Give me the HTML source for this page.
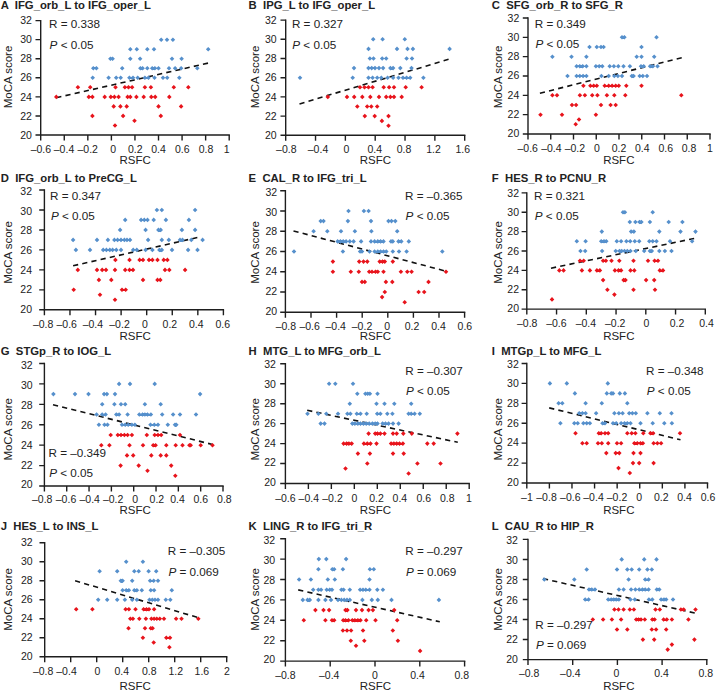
<!DOCTYPE html>
<html><head><meta charset="utf-8"><style>
html,body{margin:0;padding:0;background:#fff;width:716px;height:692px;overflow:hidden}
svg{display:block}
text{font-family:"Liberation Sans",sans-serif;fill:#222}
</style></head><body>
<svg width="716" height="692" viewBox="0 0 716 692">
<g><text x="0.8" y="8.9" font-weight="bold" font-size="11.3" xml:space="preserve">A  IFG_orb_L to IFG_oper_L</text><text x="0" y="0" font-size="11.5" text-anchor="middle" transform="translate(11.5,77.0) rotate(-90)">MoCA score</text><text x="49.0" y="28.2" font-size="11.7">R = 0.338</text><text x="49.6" y="48.5" font-size="11.7"><tspan font-style="italic">P</tspan> < 0.05</text><path d="M40.7,20.6 V135 H229.2" fill="none" stroke="#1e1e1e" stroke-width="1.4" stroke-linecap="square"/><text x="31.9" y="139.00" font-size="10.5" text-anchor="end">20</text><text x="31.9" y="119.75" font-size="10.5" text-anchor="end">22</text><text x="31.9" y="100.50" font-size="10.5" text-anchor="end">24</text><text x="31.9" y="81.25" font-size="10.5" text-anchor="end">26</text><text x="31.9" y="62.00" font-size="10.5" text-anchor="end">28</text><text x="31.9" y="42.75" font-size="10.5" text-anchor="end">30</text><text x="31.9" y="23.50" font-size="10.5" text-anchor="end">32</text><text x="40.90" y="152.80" font-size="10.5" text-anchor="middle">–0.6</text><text x="64.00" y="152.80" font-size="10.5" text-anchor="middle">–0.4</text><text x="87.70" y="152.80" font-size="10.5" text-anchor="middle">–0.2</text><text x="113.20" y="152.80" font-size="10.5" text-anchor="middle">0</text><text x="135.20" y="152.80" font-size="10.5" text-anchor="middle">0.2</text><text x="158.50" y="152.80" font-size="10.5" text-anchor="middle">0.4</text><text x="182.30" y="152.80" font-size="10.5" text-anchor="middle">0.6</text><text x="206.00" y="152.80" font-size="10.5" text-anchor="middle">0.8</text><text x="226.70" y="152.80" font-size="10.5" text-anchor="middle">1</text><path d="M35.5,135.00H40.7M35.5,115.93H40.7M35.5,96.87H40.7M35.5,77.80H40.7M35.5,58.73H40.7M35.5,39.67H40.7M35.5,20.60H40.7M40.70,135v5.5M64.26,135v5.5M87.83,135v5.5M111.39,135v5.5M134.95,135v5.5M158.51,135v5.5M182.08,135v5.5M205.64,135v5.5M229.20,135v5.5" fill="none" stroke="#1e1e1e" stroke-width="1.4"/><text x="135.2" y="163.6" font-size="11.5" text-anchor="middle">RSFC</text><path d="M56.3,97.7L209.1,62.9" stroke="#111" stroke-width="1.6" stroke-dasharray="5.2 4.2" fill="none"/><path d="M161.2,37.4l2.3,2.3l-2.3,2.3l-2.3,-2.3zM167.0,37.4l2.3,2.3l-2.3,2.3l-2.3,-2.3zM172.9,37.4l2.3,2.3l-2.3,2.3l-2.3,-2.3zM130.3,46.9l2.3,2.3l-2.3,2.3l-2.3,-2.3zM136.8,46.9l2.3,2.3l-2.3,2.3l-2.3,-2.3zM147.3,46.9l2.3,2.3l-2.3,2.3l-2.3,-2.3zM154.0,46.9l2.3,2.3l-2.3,2.3l-2.3,-2.3zM208.2,46.9l2.3,2.3l-2.3,2.3l-2.3,-2.3zM110.4,56.4l2.3,2.3l-2.3,2.3l-2.3,-2.3zM112.6,56.4l2.3,2.3l-2.3,2.3l-2.3,-2.3zM130.3,56.4l2.3,2.3l-2.3,2.3l-2.3,-2.3zM140.1,56.4l2.3,2.3l-2.3,2.3l-2.3,-2.3zM172.0,56.4l2.3,2.3l-2.3,2.3l-2.3,-2.3zM181.6,56.4l2.3,2.3l-2.3,2.3l-2.3,-2.3zM93.3,66.0l2.3,2.3l-2.3,2.3l-2.3,-2.3zM96.4,66.0l2.3,2.3l-2.3,2.3l-2.3,-2.3zM122.2,66.0l2.3,2.3l-2.3,2.3l-2.3,-2.3zM140.4,66.0l2.3,2.3l-2.3,2.3l-2.3,-2.3zM142.6,66.0l2.3,2.3l-2.3,2.3l-2.3,-2.3zM147.3,66.0l2.3,2.3l-2.3,2.3l-2.3,-2.3zM152.2,66.0l2.3,2.3l-2.3,2.3l-2.3,-2.3zM154.9,66.0l2.3,2.3l-2.3,2.3l-2.3,-2.3zM158.5,66.0l2.3,2.3l-2.3,2.3l-2.3,-2.3zM169.0,66.0l2.3,2.3l-2.3,2.3l-2.3,-2.3zM175.1,66.0l2.3,2.3l-2.3,2.3l-2.3,-2.3zM181.1,66.0l2.3,2.3l-2.3,2.3l-2.3,-2.3zM197.3,66.0l2.3,2.3l-2.3,2.3l-2.3,-2.3zM92.7,75.5l2.3,2.3l-2.3,2.3l-2.3,-2.3zM108.6,75.5l2.3,2.3l-2.3,2.3l-2.3,-2.3zM116.2,75.5l2.3,2.3l-2.3,2.3l-2.3,-2.3zM120.7,75.5l2.3,2.3l-2.3,2.3l-2.3,-2.3zM129.4,75.5l2.3,2.3l-2.3,2.3l-2.3,-2.3zM133.0,75.5l2.3,2.3l-2.3,2.3l-2.3,-2.3zM137.7,75.5l2.3,2.3l-2.3,2.3l-2.3,-2.3zM144.9,75.5l2.3,2.3l-2.3,2.3l-2.3,-2.3zM148.5,75.5l2.3,2.3l-2.3,2.3l-2.3,-2.3zM154.5,75.5l2.3,2.3l-2.3,2.3l-2.3,-2.3zM163.0,75.5l2.3,2.3l-2.3,2.3l-2.3,-2.3zM167.2,75.5l2.3,2.3l-2.3,2.3l-2.3,-2.3zM179.3,75.5l2.3,2.3l-2.3,2.3l-2.3,-2.3z" fill="#5690cc"/><path d="M77.9,85.0l2.3,2.3l-2.3,2.3l-2.3,-2.3zM90.2,85.0l2.3,2.3l-2.3,2.3l-2.3,-2.3zM115.5,85.0l2.3,2.3l-2.3,2.3l-2.3,-2.3zM124.9,85.0l2.3,2.3l-2.3,2.3l-2.3,-2.3zM128.5,85.0l2.3,2.3l-2.3,2.3l-2.3,-2.3zM132.1,85.0l2.3,2.3l-2.3,2.3l-2.3,-2.3zM144.9,85.0l2.3,2.3l-2.3,2.3l-2.3,-2.3zM150.9,85.0l2.3,2.3l-2.3,2.3l-2.3,-2.3zM173.8,85.0l2.3,2.3l-2.3,2.3l-2.3,-2.3zM188.3,85.0l2.3,2.3l-2.3,2.3l-2.3,-2.3zM56.3,94.6l2.3,2.3l-2.3,2.3l-2.3,-2.3zM88.8,94.6l2.3,2.3l-2.3,2.3l-2.3,-2.3zM92.4,94.6l2.3,2.3l-2.3,2.3l-2.3,-2.3zM104.7,94.6l2.3,2.3l-2.3,2.3l-2.3,-2.3zM110.8,94.6l2.3,2.3l-2.3,2.3l-2.3,-2.3zM114.4,94.6l2.3,2.3l-2.3,2.3l-2.3,-2.3zM118.6,94.6l2.3,2.3l-2.3,2.3l-2.3,-2.3zM127.6,94.6l2.3,2.3l-2.3,2.3l-2.3,-2.3zM130.3,94.6l2.3,2.3l-2.3,2.3l-2.3,-2.3zM136.4,94.6l2.3,2.3l-2.3,2.3l-2.3,-2.3zM143.7,94.6l2.3,2.3l-2.3,2.3l-2.3,-2.3zM151.3,94.6l2.3,2.3l-2.3,2.3l-2.3,-2.3zM155.2,94.6l2.3,2.3l-2.3,2.3l-2.3,-2.3zM169.3,94.6l2.3,2.3l-2.3,2.3l-2.3,-2.3zM113.7,104.1l2.3,2.3l-2.3,2.3l-2.3,-2.3zM120.4,104.1l2.3,2.3l-2.3,2.3l-2.3,-2.3zM126.7,104.1l2.3,2.3l-2.3,2.3l-2.3,-2.3zM158.5,104.1l2.3,2.3l-2.3,2.3l-2.3,-2.3zM181.1,104.1l2.3,2.3l-2.3,2.3l-2.3,-2.3zM92.4,113.6l2.3,2.3l-2.3,2.3l-2.3,-2.3zM123.1,113.6l2.3,2.3l-2.3,2.3l-2.3,-2.3zM160.8,113.6l2.3,2.3l-2.3,2.3l-2.3,-2.3zM134.5,118.4l2.3,2.3l-2.3,2.3l-2.3,-2.3zM115.0,123.2l2.3,2.3l-2.3,2.3l-2.3,-2.3z" fill="#e8141c"/></g>
<g><text x="248.6" y="8.9" font-weight="bold" font-size="11.3" xml:space="preserve">B  IPG_L to IFG_oper_L</text><text x="0" y="0" font-size="11.5" text-anchor="middle" transform="translate(259.40000000000003,77.0) rotate(-90)">MoCA score</text><text x="291.9" y="28.2" font-size="11.7">R = 0.327</text><text x="292.3" y="48.5" font-size="11.7"><tspan font-style="italic">P</tspan> < 0.05</text><path d="M285.7,20.1 V135.3 H464.7" fill="none" stroke="#1e1e1e" stroke-width="1.4" stroke-linecap="square"/><text x="276.7" y="139.00" font-size="10.5" text-anchor="end">20</text><text x="276.7" y="119.80" font-size="10.5" text-anchor="end">22</text><text x="276.7" y="100.60" font-size="10.5" text-anchor="end">24</text><text x="276.7" y="81.40" font-size="10.5" text-anchor="end">26</text><text x="276.7" y="62.20" font-size="10.5" text-anchor="end">28</text><text x="276.7" y="43.00" font-size="10.5" text-anchor="end">30</text><text x="276.7" y="23.80" font-size="10.5" text-anchor="end">32</text><text x="286.30" y="153.10" font-size="10.5" text-anchor="middle">–0.8</text><text x="318.00" y="153.10" font-size="10.5" text-anchor="middle">–0.4</text><text x="346.50" y="153.10" font-size="10.5" text-anchor="middle">0</text><text x="374.70" y="153.10" font-size="10.5" text-anchor="middle">0.4</text><text x="404.00" y="153.10" font-size="10.5" text-anchor="middle">0.8</text><text x="433.50" y="153.10" font-size="10.5" text-anchor="middle">1.2</text><text x="462.80" y="153.10" font-size="10.5" text-anchor="middle">1.6</text><path d="M280.5,135.30H285.7M280.5,116.10H285.7M280.5,96.90H285.7M280.5,77.70H285.7M280.5,58.50H285.7M280.5,39.30H285.7M280.5,20.10H285.7M285.70,135.3v5.5M315.53,135.3v5.5M345.37,135.3v5.5M375.20,135.3v5.5M405.03,135.3v5.5M434.87,135.3v5.5M464.70,135.3v5.5" fill="none" stroke="#1e1e1e" stroke-width="1.4"/><text x="375.4" y="163.6" font-size="11.5" text-anchor="middle">RSFC</text><path d="M299.5,103.9L450,58.9" stroke="#111" stroke-width="1.6" stroke-dasharray="5.2 4.2" fill="none"/><path d="M373.2,37.0l2.3,2.3l-2.3,2.3l-2.3,-2.3zM382.6,37.0l2.3,2.3l-2.3,2.3l-2.3,-2.3zM404.8,37.0l2.3,2.3l-2.3,2.3l-2.3,-2.3zM368.5,46.6l2.3,2.3l-2.3,2.3l-2.3,-2.3zM397.0,46.6l2.3,2.3l-2.3,2.3l-2.3,-2.3zM407.5,46.6l2.3,2.3l-2.3,2.3l-2.3,-2.3zM412.9,46.6l2.3,2.3l-2.3,2.3l-2.3,-2.3zM449.6,46.6l2.3,2.3l-2.3,2.3l-2.3,-2.3zM369.9,56.2l2.3,2.3l-2.3,2.3l-2.3,-2.3zM373.5,56.2l2.3,2.3l-2.3,2.3l-2.3,-2.3zM382.2,56.2l2.3,2.3l-2.3,2.3l-2.3,-2.3zM386.2,56.2l2.3,2.3l-2.3,2.3l-2.3,-2.3zM406.6,56.2l2.3,2.3l-2.3,2.3l-2.3,-2.3zM412.0,56.2l2.3,2.3l-2.3,2.3l-2.3,-2.3zM354.0,65.8l2.3,2.3l-2.3,2.3l-2.3,-2.3zM368.5,65.8l2.3,2.3l-2.3,2.3l-2.3,-2.3zM371.7,65.8l2.3,2.3l-2.3,2.3l-2.3,-2.3zM375.0,65.8l2.3,2.3l-2.3,2.3l-2.3,-2.3zM379.0,65.8l2.3,2.3l-2.3,2.3l-2.3,-2.3zM383.1,65.8l2.3,2.3l-2.3,2.3l-2.3,-2.3zM390.4,65.8l2.3,2.3l-2.3,2.3l-2.3,-2.3zM393.1,65.8l2.3,2.3l-2.3,2.3l-2.3,-2.3zM400.3,65.8l2.3,2.3l-2.3,2.3l-2.3,-2.3zM411.5,65.8l2.3,2.3l-2.3,2.3l-2.3,-2.3zM300.0,75.4l2.3,2.3l-2.3,2.3l-2.3,-2.3zM352.7,75.4l2.3,2.3l-2.3,2.3l-2.3,-2.3zM368.5,75.4l2.3,2.3l-2.3,2.3l-2.3,-2.3zM372.6,75.4l2.3,2.3l-2.3,2.3l-2.3,-2.3zM377.2,75.4l2.3,2.3l-2.3,2.3l-2.3,-2.3zM381.3,75.4l2.3,2.3l-2.3,2.3l-2.3,-2.3zM387.6,75.4l2.3,2.3l-2.3,2.3l-2.3,-2.3zM393.1,75.4l2.3,2.3l-2.3,2.3l-2.3,-2.3zM398.5,75.4l2.3,2.3l-2.3,2.3l-2.3,-2.3zM403.0,75.4l2.3,2.3l-2.3,2.3l-2.3,-2.3zM406.6,75.4l2.3,2.3l-2.3,2.3l-2.3,-2.3zM410.2,75.4l2.3,2.3l-2.3,2.3l-2.3,-2.3zM423.4,75.4l2.3,2.3l-2.3,2.3l-2.3,-2.3z" fill="#5690cc"/><path d="M360.0,85.0l2.3,2.3l-2.3,2.3l-2.3,-2.3zM364.5,85.0l2.3,2.3l-2.3,2.3l-2.3,-2.3zM368.5,85.0l2.3,2.3l-2.3,2.3l-2.3,-2.3zM372.6,85.0l2.3,2.3l-2.3,2.3l-2.3,-2.3zM383.7,85.0l2.3,2.3l-2.3,2.3l-2.3,-2.3zM389.1,85.0l2.3,2.3l-2.3,2.3l-2.3,-2.3zM394.0,85.0l2.3,2.3l-2.3,2.3l-2.3,-2.3zM405.7,85.0l2.3,2.3l-2.3,2.3l-2.3,-2.3zM421.6,85.0l2.3,2.3l-2.3,2.3l-2.3,-2.3zM327.8,94.6l2.3,2.3l-2.3,2.3l-2.3,-2.3zM347.0,94.6l2.3,2.3l-2.3,2.3l-2.3,-2.3zM354.2,94.6l2.3,2.3l-2.3,2.3l-2.3,-2.3zM362.3,94.6l2.3,2.3l-2.3,2.3l-2.3,-2.3zM370.3,94.6l2.3,2.3l-2.3,2.3l-2.3,-2.3zM379.0,94.6l2.3,2.3l-2.3,2.3l-2.3,-2.3zM386.2,94.6l2.3,2.3l-2.3,2.3l-2.3,-2.3zM390.4,94.6l2.3,2.3l-2.3,2.3l-2.3,-2.3zM394.0,94.6l2.3,2.3l-2.3,2.3l-2.3,-2.3zM401.7,94.6l2.3,2.3l-2.3,2.3l-2.3,-2.3zM357.3,104.2l2.3,2.3l-2.3,2.3l-2.3,-2.3zM367.2,104.2l2.3,2.3l-2.3,2.3l-2.3,-2.3zM371.3,104.2l2.3,2.3l-2.3,2.3l-2.3,-2.3zM377.2,104.2l2.3,2.3l-2.3,2.3l-2.3,-2.3zM364.8,113.8l2.3,2.3l-2.3,2.3l-2.3,-2.3zM374.7,113.8l2.3,2.3l-2.3,2.3l-2.3,-2.3zM388.5,113.8l2.3,2.3l-2.3,2.3l-2.3,-2.3zM381.9,118.6l2.3,2.3l-2.3,2.3l-2.3,-2.3zM388.5,123.4l2.3,2.3l-2.3,2.3l-2.3,-2.3z" fill="#e8141c"/></g>
<g><text x="491.8" y="8.9" font-weight="bold" font-size="11.3" xml:space="preserve">C  SFG_orb_R to SFG_R</text><text x="0" y="0" font-size="11.5" text-anchor="middle" transform="translate(502.0,77.0) rotate(-90)">MoCA score</text><text x="534.7" y="27.9" font-size="11.7">R = 0.349</text><text x="535.4" y="48" font-size="11.7"><tspan font-style="italic">P</tspan> < 0.05</text><path d="M528,18 V134 H710" fill="none" stroke="#1e1e1e" stroke-width="1.4" stroke-linecap="square"/><text x="519.3" y="137.10" font-size="10.5" text-anchor="end">20</text><text x="519.3" y="117.88" font-size="10.5" text-anchor="end">22</text><text x="519.3" y="98.67" font-size="10.5" text-anchor="end">24</text><text x="519.3" y="79.45" font-size="10.5" text-anchor="end">26</text><text x="519.3" y="60.23" font-size="10.5" text-anchor="end">28</text><text x="519.3" y="41.02" font-size="10.5" text-anchor="end">30</text><text x="519.3" y="21.80" font-size="10.5" text-anchor="end">32</text><text x="527.70" y="151.80" font-size="10.5" text-anchor="middle">–0.6</text><text x="551.40" y="151.80" font-size="10.5" text-anchor="middle">–0.4</text><text x="574.90" y="151.80" font-size="10.5" text-anchor="middle">–0.2</text><text x="596.90" y="151.80" font-size="10.5" text-anchor="middle">0</text><text x="619.00" y="151.80" font-size="10.5" text-anchor="middle">0.2</text><text x="642.30" y="151.80" font-size="10.5" text-anchor="middle">0.4</text><text x="665.70" y="151.80" font-size="10.5" text-anchor="middle">0.6</text><text x="689.00" y="151.80" font-size="10.5" text-anchor="middle">0.8</text><text x="710.00" y="151.80" font-size="10.5" text-anchor="middle">1</text><path d="M522.8,134.00H528M522.8,114.67H528M522.8,95.33H528M522.8,76.00H528M522.8,56.67H528M522.8,37.33H528M522.8,18.00H528M528.00,134v5.5M550.75,134v5.5M573.50,134v5.5M596.25,134v5.5M619.00,134v5.5M641.75,134v5.5M664.50,134v5.5M687.25,134v5.5M710.00,134v5.5" fill="none" stroke="#1e1e1e" stroke-width="1.4"/><text x="618.8" y="163.6" font-size="11.5" text-anchor="middle">RSFC</text><path d="M539.9,93.2L682.2,57.6" stroke="#111" stroke-width="1.6" stroke-dasharray="5.2 4.2" fill="none"/><path d="M622.0,35.0l2.3,2.3l-2.3,2.3l-2.3,-2.3zM624.4,35.0l2.3,2.3l-2.3,2.3l-2.3,-2.3zM656.5,35.0l2.3,2.3l-2.3,2.3l-2.3,-2.3zM589.5,44.7l2.3,2.3l-2.3,2.3l-2.3,-2.3zM596.8,44.7l2.3,2.3l-2.3,2.3l-2.3,-2.3zM601.0,44.7l2.3,2.3l-2.3,2.3l-2.3,-2.3zM603.6,44.7l2.3,2.3l-2.3,2.3l-2.3,-2.3zM641.5,44.7l2.3,2.3l-2.3,2.3l-2.3,-2.3zM552.4,54.4l2.3,2.3l-2.3,2.3l-2.3,-2.3zM571.5,54.4l2.3,2.3l-2.3,2.3l-2.3,-2.3zM586.4,54.4l2.3,2.3l-2.3,2.3l-2.3,-2.3zM636.7,54.4l2.3,2.3l-2.3,2.3l-2.3,-2.3zM641.5,54.4l2.3,2.3l-2.3,2.3l-2.3,-2.3zM654.2,54.4l2.3,2.3l-2.3,2.3l-2.3,-2.3zM576.6,64.0l2.3,2.3l-2.3,2.3l-2.3,-2.3zM579.8,64.0l2.3,2.3l-2.3,2.3l-2.3,-2.3zM582.7,64.0l2.3,2.3l-2.3,2.3l-2.3,-2.3zM586.4,64.0l2.3,2.3l-2.3,2.3l-2.3,-2.3zM595.9,64.0l2.3,2.3l-2.3,2.3l-2.3,-2.3zM599.2,64.0l2.3,2.3l-2.3,2.3l-2.3,-2.3zM602.3,64.0l2.3,2.3l-2.3,2.3l-2.3,-2.3zM609.7,64.0l2.3,2.3l-2.3,2.3l-2.3,-2.3zM613.9,64.0l2.3,2.3l-2.3,2.3l-2.3,-2.3zM618.3,64.0l2.3,2.3l-2.3,2.3l-2.3,-2.3zM623.5,64.0l2.3,2.3l-2.3,2.3l-2.3,-2.3zM629.9,64.0l2.3,2.3l-2.3,2.3l-2.3,-2.3zM641.0,64.0l2.3,2.3l-2.3,2.3l-2.3,-2.3zM643.7,64.0l2.3,2.3l-2.3,2.3l-2.3,-2.3zM650.1,64.0l2.3,2.3l-2.3,2.3l-2.3,-2.3zM652.9,64.0l2.3,2.3l-2.3,2.3l-2.3,-2.3zM657.5,64.0l2.3,2.3l-2.3,2.3l-2.3,-2.3zM567.5,73.7l2.3,2.3l-2.3,2.3l-2.3,-2.3zM576.6,73.7l2.3,2.3l-2.3,2.3l-2.3,-2.3zM579.8,73.7l2.3,2.3l-2.3,2.3l-2.3,-2.3zM583.1,73.7l2.3,2.3l-2.3,2.3l-2.3,-2.3zM586.4,73.7l2.3,2.3l-2.3,2.3l-2.3,-2.3zM601.4,73.7l2.3,2.3l-2.3,2.3l-2.3,-2.3zM608.7,73.7l2.3,2.3l-2.3,2.3l-2.3,-2.3zM614.3,73.7l2.3,2.3l-2.3,2.3l-2.3,-2.3zM617.9,73.7l2.3,2.3l-2.3,2.3l-2.3,-2.3zM622.0,73.7l2.3,2.3l-2.3,2.3l-2.3,-2.3zM631.8,73.7l2.3,2.3l-2.3,2.3l-2.3,-2.3zM633.6,73.7l2.3,2.3l-2.3,2.3l-2.3,-2.3zM639.7,73.7l2.3,2.3l-2.3,2.3l-2.3,-2.3zM642.8,73.7l2.3,2.3l-2.3,2.3l-2.3,-2.3zM647.0,73.7l2.3,2.3l-2.3,2.3l-2.3,-2.3z" fill="#5690cc"/><path d="M583.4,83.4l2.3,2.3l-2.3,2.3l-2.3,-2.3zM590.4,83.4l2.3,2.3l-2.3,2.3l-2.3,-2.3zM593.7,83.4l2.3,2.3l-2.3,2.3l-2.3,-2.3zM596.8,83.4l2.3,2.3l-2.3,2.3l-2.3,-2.3zM604.7,83.4l2.3,2.3l-2.3,2.3l-2.3,-2.3zM608.7,83.4l2.3,2.3l-2.3,2.3l-2.3,-2.3zM612.1,83.4l2.3,2.3l-2.3,2.3l-2.3,-2.3zM615.7,83.4l2.3,2.3l-2.3,2.3l-2.3,-2.3zM618.8,83.4l2.3,2.3l-2.3,2.3l-2.3,-2.3zM626.3,83.4l2.3,2.3l-2.3,2.3l-2.3,-2.3zM641.5,83.4l2.3,2.3l-2.3,2.3l-2.3,-2.3zM552.4,93.0l2.3,2.3l-2.3,2.3l-2.3,-2.3zM557.0,93.0l2.3,2.3l-2.3,2.3l-2.3,-2.3zM579.9,93.0l2.3,2.3l-2.3,2.3l-2.3,-2.3zM584.9,93.0l2.3,2.3l-2.3,2.3l-2.3,-2.3zM592.2,93.0l2.3,2.3l-2.3,2.3l-2.3,-2.3zM597.4,93.0l2.3,2.3l-2.3,2.3l-2.3,-2.3zM606.9,93.0l2.3,2.3l-2.3,2.3l-2.3,-2.3zM614.3,93.0l2.3,2.3l-2.3,2.3l-2.3,-2.3zM625.3,93.0l2.3,2.3l-2.3,2.3l-2.3,-2.3zM681.3,93.0l2.3,2.3l-2.3,2.3l-2.3,-2.3zM572.0,102.7l2.3,2.3l-2.3,2.3l-2.3,-2.3zM576.1,102.7l2.3,2.3l-2.3,2.3l-2.3,-2.3zM601.0,102.7l2.3,2.3l-2.3,2.3l-2.3,-2.3zM610.6,102.7l2.3,2.3l-2.3,2.3l-2.3,-2.3zM615.7,102.7l2.3,2.3l-2.3,2.3l-2.3,-2.3zM540.5,112.4l2.3,2.3l-2.3,2.3l-2.3,-2.3zM562.0,112.4l2.3,2.3l-2.3,2.3l-2.3,-2.3zM595.9,112.4l2.3,2.3l-2.3,2.3l-2.3,-2.3zM579.0,117.2l2.3,2.3l-2.3,2.3l-2.3,-2.3zM575.7,122.0l2.3,2.3l-2.3,2.3l-2.3,-2.3z" fill="#e8141c"/></g>
<g><text x="0.8" y="181.7" font-weight="bold" font-size="11.3" xml:space="preserve">D  IFG_orb_L to PreCG_L</text><text x="0" y="0" font-size="11.5" text-anchor="middle" transform="translate(11.5,252.5) rotate(-90)">MoCA score</text><text x="50.1" y="199.7" font-size="11.7">R = 0.347</text><text x="50.9" y="220.2" font-size="11.7"><tspan font-style="italic">P</tspan> < 0.05</text><path d="M44.4,190 V309.8 H223.4" fill="none" stroke="#1e1e1e" stroke-width="1.4" stroke-linecap="square"/><text x="32.0" y="313.00" font-size="10.5" text-anchor="end">20</text><text x="32.0" y="293.30" font-size="10.5" text-anchor="end">22</text><text x="32.0" y="273.60" font-size="10.5" text-anchor="end">24</text><text x="32.0" y="253.90" font-size="10.5" text-anchor="end">26</text><text x="32.0" y="234.20" font-size="10.5" text-anchor="end">28</text><text x="32.0" y="214.50" font-size="10.5" text-anchor="end">30</text><text x="32.0" y="194.80" font-size="10.5" text-anchor="end">32</text><text x="43.10" y="327.60" font-size="10.5" text-anchor="middle">–0.8</text><text x="66.70" y="327.60" font-size="10.5" text-anchor="middle">–0.6</text><text x="92.90" y="327.60" font-size="10.5" text-anchor="middle">–0.4</text><text x="119.50" y="327.60" font-size="10.5" text-anchor="middle">–0.2</text><text x="145.00" y="327.60" font-size="10.5" text-anchor="middle">0</text><text x="169.90" y="327.60" font-size="10.5" text-anchor="middle">0.2</text><text x="196.30" y="327.60" font-size="10.5" text-anchor="middle">0.4</text><text x="222.70" y="327.60" font-size="10.5" text-anchor="middle">0.6</text><path d="M39.199999999999996,309.80H44.4M39.199999999999996,289.83H44.4M39.199999999999996,269.87H44.4M39.199999999999996,249.90H44.4M39.199999999999996,229.93H44.4M39.199999999999996,209.97H44.4M39.199999999999996,190.00H44.4M44.40,309.8v5.5M69.97,309.8v5.5M95.54,309.8v5.5M121.11,309.8v5.5M146.69,309.8v5.5M172.26,309.8v5.5M197.83,309.8v5.5M223.40,309.8v5.5" fill="none" stroke="#1e1e1e" stroke-width="1.4"/><text x="135.2" y="339.9" font-size="11.5" text-anchor="middle">RSFC</text><path d="M73.1,265.8L198.8,237.2" stroke="#111" stroke-width="1.6" stroke-dasharray="5.2 4.2" fill="none"/><path d="M156.9,207.7l2.3,2.3l-2.3,2.3l-2.3,-2.3zM161.8,207.7l2.3,2.3l-2.3,2.3l-2.3,-2.3zM195.1,207.7l2.3,2.3l-2.3,2.3l-2.3,-2.3zM125.2,217.6l2.3,2.3l-2.3,2.3l-2.3,-2.3zM141.1,217.6l2.3,2.3l-2.3,2.3l-2.3,-2.3zM144.3,217.6l2.3,2.3l-2.3,2.3l-2.3,-2.3zM147.5,217.6l2.3,2.3l-2.3,2.3l-2.3,-2.3zM153.7,217.6l2.3,2.3l-2.3,2.3l-2.3,-2.3zM165.9,217.6l2.3,2.3l-2.3,2.3l-2.3,-2.3zM188.9,217.6l2.3,2.3l-2.3,2.3l-2.3,-2.3zM120.1,227.6l2.3,2.3l-2.3,2.3l-2.3,-2.3zM145.6,227.6l2.3,2.3l-2.3,2.3l-2.3,-2.3zM158.4,227.6l2.3,2.3l-2.3,2.3l-2.3,-2.3zM160.7,227.6l2.3,2.3l-2.3,2.3l-2.3,-2.3zM181.9,227.6l2.3,2.3l-2.3,2.3l-2.3,-2.3zM195.1,227.6l2.3,2.3l-2.3,2.3l-2.3,-2.3zM73.1,237.6l2.3,2.3l-2.3,2.3l-2.3,-2.3zM97.0,237.6l2.3,2.3l-2.3,2.3l-2.3,-2.3zM107.9,237.6l2.3,2.3l-2.3,2.3l-2.3,-2.3zM114.4,237.6l2.3,2.3l-2.3,2.3l-2.3,-2.3zM117.6,237.6l2.3,2.3l-2.3,2.3l-2.3,-2.3zM121.0,237.6l2.3,2.3l-2.3,2.3l-2.3,-2.3zM124.4,237.6l2.3,2.3l-2.3,2.3l-2.3,-2.3zM127.0,237.6l2.3,2.3l-2.3,2.3l-2.3,-2.3zM130.0,237.6l2.3,2.3l-2.3,2.3l-2.3,-2.3zM148.1,237.6l2.3,2.3l-2.3,2.3l-2.3,-2.3zM161.8,237.6l2.3,2.3l-2.3,2.3l-2.3,-2.3zM168.8,237.6l2.3,2.3l-2.3,2.3l-2.3,-2.3zM180.0,237.6l2.3,2.3l-2.3,2.3l-2.3,-2.3zM182.5,237.6l2.3,2.3l-2.3,2.3l-2.3,-2.3zM191.3,237.6l2.3,2.3l-2.3,2.3l-2.3,-2.3zM202.6,237.6l2.3,2.3l-2.3,2.3l-2.3,-2.3zM75.9,247.6l2.3,2.3l-2.3,2.3l-2.3,-2.3zM90.0,247.6l2.3,2.3l-2.3,2.3l-2.3,-2.3zM103.2,247.6l2.3,2.3l-2.3,2.3l-2.3,-2.3zM106.4,247.6l2.3,2.3l-2.3,2.3l-2.3,-2.3zM109.8,247.6l2.3,2.3l-2.3,2.3l-2.3,-2.3zM112.6,247.6l2.3,2.3l-2.3,2.3l-2.3,-2.3zM116.3,247.6l2.3,2.3l-2.3,2.3l-2.3,-2.3zM121.0,247.6l2.3,2.3l-2.3,2.3l-2.3,-2.3zM133.2,247.6l2.3,2.3l-2.3,2.3l-2.3,-2.3zM136.8,247.6l2.3,2.3l-2.3,2.3l-2.3,-2.3zM145.6,247.6l2.3,2.3l-2.3,2.3l-2.3,-2.3zM152.4,247.6l2.3,2.3l-2.3,2.3l-2.3,-2.3zM159.4,247.6l2.3,2.3l-2.3,2.3l-2.3,-2.3zM161.8,247.6l2.3,2.3l-2.3,2.3l-2.3,-2.3zM172.0,247.6l2.3,2.3l-2.3,2.3l-2.3,-2.3zM188.1,247.6l2.3,2.3l-2.3,2.3l-2.3,-2.3zM197.5,247.6l2.3,2.3l-2.3,2.3l-2.3,-2.3z" fill="#5690cc"/><path d="M115.4,257.6l2.3,2.3l-2.3,2.3l-2.3,-2.3zM129.5,257.6l2.3,2.3l-2.3,2.3l-2.3,-2.3zM139.6,257.6l2.3,2.3l-2.3,2.3l-2.3,-2.3zM143.0,257.6l2.3,2.3l-2.3,2.3l-2.3,-2.3zM149.0,257.6l2.3,2.3l-2.3,2.3l-2.3,-2.3zM152.4,257.6l2.3,2.3l-2.3,2.3l-2.3,-2.3zM157.5,257.6l2.3,2.3l-2.3,2.3l-2.3,-2.3zM163.7,257.6l2.3,2.3l-2.3,2.3l-2.3,-2.3zM167.4,257.6l2.3,2.3l-2.3,2.3l-2.3,-2.3zM77.8,267.6l2.3,2.3l-2.3,2.3l-2.3,-2.3zM97.0,267.6l2.3,2.3l-2.3,2.3l-2.3,-2.3zM102.2,267.6l2.3,2.3l-2.3,2.3l-2.3,-2.3zM106.0,267.6l2.3,2.3l-2.3,2.3l-2.3,-2.3zM115.0,267.6l2.3,2.3l-2.3,2.3l-2.3,-2.3zM125.2,267.6l2.3,2.3l-2.3,2.3l-2.3,-2.3zM129.5,267.6l2.3,2.3l-2.3,2.3l-2.3,-2.3zM133.0,267.6l2.3,2.3l-2.3,2.3l-2.3,-2.3zM165.0,267.6l2.3,2.3l-2.3,2.3l-2.3,-2.3zM169.3,267.6l2.3,2.3l-2.3,2.3l-2.3,-2.3zM185.1,267.6l2.3,2.3l-2.3,2.3l-2.3,-2.3zM98.9,277.6l2.3,2.3l-2.3,2.3l-2.3,-2.3zM111.3,277.6l2.3,2.3l-2.3,2.3l-2.3,-2.3zM143.0,277.6l2.3,2.3l-2.3,2.3l-2.3,-2.3zM157.5,277.6l2.3,2.3l-2.3,2.3l-2.3,-2.3zM160.3,277.6l2.3,2.3l-2.3,2.3l-2.3,-2.3zM73.7,287.5l2.3,2.3l-2.3,2.3l-2.3,-2.3zM122.0,287.5l2.3,2.3l-2.3,2.3l-2.3,-2.3zM125.7,287.5l2.3,2.3l-2.3,2.3l-2.3,-2.3zM100.0,292.5l2.3,2.3l-2.3,2.3l-2.3,-2.3zM115.0,297.5l2.3,2.3l-2.3,2.3l-2.3,-2.3z" fill="#e8141c"/></g>
<g><text x="248.6" y="181.7" font-weight="bold" font-size="11.3" xml:space="preserve">E  CAL_R to IFG_tri_L</text><text x="0" y="0" font-size="11.5" text-anchor="middle" transform="translate(259.40000000000003,252.5) rotate(-90)">MoCA score</text><text x="405.0" y="199.7" font-size="11.7">R = –0.365</text><text x="405.6" y="220.2" font-size="11.7"><tspan font-style="italic">P</tspan> < 0.05</text><path d="M285.4,190.7 V312.3 H464.6" fill="none" stroke="#1e1e1e" stroke-width="1.4" stroke-linecap="square"/><text x="277.1" y="315.20" font-size="10.5" text-anchor="end">20</text><text x="277.1" y="295.27" font-size="10.5" text-anchor="end">22</text><text x="277.1" y="275.33" font-size="10.5" text-anchor="end">24</text><text x="277.1" y="255.40" font-size="10.5" text-anchor="end">26</text><text x="277.1" y="235.47" font-size="10.5" text-anchor="end">28</text><text x="277.1" y="215.53" font-size="10.5" text-anchor="end">30</text><text x="277.1" y="195.60" font-size="10.5" text-anchor="end">32</text><text x="285.90" y="330.10" font-size="10.5" text-anchor="middle">–0.8</text><text x="309.60" y="330.10" font-size="10.5" text-anchor="middle">–0.6</text><text x="335.70" y="330.10" font-size="10.5" text-anchor="middle">–0.4</text><text x="362.00" y="330.10" font-size="10.5" text-anchor="middle">–0.2</text><text x="387.10" y="330.10" font-size="10.5" text-anchor="middle">0</text><text x="412.10" y="330.10" font-size="10.5" text-anchor="middle">0.2</text><text x="438.50" y="330.10" font-size="10.5" text-anchor="middle">0.4</text><text x="464.90" y="330.10" font-size="10.5" text-anchor="middle">0.6</text><path d="M280.2,312.30H285.4M280.2,292.03H285.4M280.2,271.77H285.4M280.2,251.50H285.4M280.2,231.23H285.4M280.2,210.97H285.4M280.2,190.70H285.4M285.40,312.3v5.5M311.00,312.3v5.5M336.60,312.3v5.5M362.20,312.3v5.5M387.80,312.3v5.5M413.40,312.3v5.5M439.00,312.3v5.5M464.60,312.3v5.5" fill="none" stroke="#1e1e1e" stroke-width="1.4"/><text x="375.4" y="339.9" font-size="11.5" text-anchor="middle">RSFC</text><path d="M293.5,230.9L446,271.2" stroke="#111" stroke-width="1.6" stroke-dasharray="5.2 4.2" fill="none"/><path d="M348.5,208.7l2.3,2.3l-2.3,2.3l-2.3,-2.3zM363.9,208.7l2.3,2.3l-2.3,2.3l-2.3,-2.3zM368.6,208.7l2.3,2.3l-2.3,2.3l-2.3,-2.3zM320.7,218.8l2.3,2.3l-2.3,2.3l-2.3,-2.3zM323.5,218.8l2.3,2.3l-2.3,2.3l-2.3,-2.3zM347.9,218.8l2.3,2.3l-2.3,2.3l-2.3,-2.3zM371.0,218.8l2.3,2.3l-2.3,2.3l-2.3,-2.3zM388.5,218.8l2.3,2.3l-2.3,2.3l-2.3,-2.3zM391.5,218.8l2.3,2.3l-2.3,2.3l-2.3,-2.3zM395.3,218.8l2.3,2.3l-2.3,2.3l-2.3,-2.3zM313.6,228.9l2.3,2.3l-2.3,2.3l-2.3,-2.3zM327.3,228.9l2.3,2.3l-2.3,2.3l-2.3,-2.3zM341.0,228.9l2.3,2.3l-2.3,2.3l-2.3,-2.3zM354.9,228.9l2.3,2.3l-2.3,2.3l-2.3,-2.3zM371.4,228.9l2.3,2.3l-2.3,2.3l-2.3,-2.3zM397.2,228.9l2.3,2.3l-2.3,2.3l-2.3,-2.3zM337.6,239.1l2.3,2.3l-2.3,2.3l-2.3,-2.3zM340.4,239.1l2.3,2.3l-2.3,2.3l-2.3,-2.3zM343.2,239.1l2.3,2.3l-2.3,2.3l-2.3,-2.3zM346.1,239.1l2.3,2.3l-2.3,2.3l-2.3,-2.3zM349.8,239.1l2.3,2.3l-2.3,2.3l-2.3,-2.3zM353.6,239.1l2.3,2.3l-2.3,2.3l-2.3,-2.3zM361.1,239.1l2.3,2.3l-2.3,2.3l-2.3,-2.3zM371.0,239.1l2.3,2.3l-2.3,2.3l-2.3,-2.3zM374.6,239.1l2.3,2.3l-2.3,2.3l-2.3,-2.3zM377.8,239.1l2.3,2.3l-2.3,2.3l-2.3,-2.3zM380.6,239.1l2.3,2.3l-2.3,2.3l-2.3,-2.3zM383.5,239.1l2.3,2.3l-2.3,2.3l-2.3,-2.3zM391.0,239.1l2.3,2.3l-2.3,2.3l-2.3,-2.3zM392.8,239.1l2.3,2.3l-2.3,2.3l-2.3,-2.3zM398.5,239.1l2.3,2.3l-2.3,2.3l-2.3,-2.3zM401.3,239.1l2.3,2.3l-2.3,2.3l-2.3,-2.3zM408.8,239.1l2.3,2.3l-2.3,2.3l-2.3,-2.3zM294.0,249.2l2.3,2.3l-2.3,2.3l-2.3,-2.3zM342.9,249.2l2.3,2.3l-2.3,2.3l-2.3,-2.3zM360.1,249.2l2.3,2.3l-2.3,2.3l-2.3,-2.3zM362.0,249.2l2.3,2.3l-2.3,2.3l-2.3,-2.3zM369.5,249.2l2.3,2.3l-2.3,2.3l-2.3,-2.3zM374.6,249.2l2.3,2.3l-2.3,2.3l-2.3,-2.3zM377.8,249.2l2.3,2.3l-2.3,2.3l-2.3,-2.3zM380.6,249.2l2.3,2.3l-2.3,2.3l-2.3,-2.3zM383.5,249.2l2.3,2.3l-2.3,2.3l-2.3,-2.3zM386.3,249.2l2.3,2.3l-2.3,2.3l-2.3,-2.3zM392.8,249.2l2.3,2.3l-2.3,2.3l-2.3,-2.3zM399.0,249.2l2.3,2.3l-2.3,2.3l-2.3,-2.3zM406.6,249.2l2.3,2.3l-2.3,2.3l-2.3,-2.3zM442.3,249.2l2.3,2.3l-2.3,2.3l-2.3,-2.3z" fill="#5690cc"/><path d="M332.9,259.3l2.3,2.3l-2.3,2.3l-2.3,-2.3zM359.2,259.3l2.3,2.3l-2.3,2.3l-2.3,-2.3zM363.5,259.3l2.3,2.3l-2.3,2.3l-2.3,-2.3zM367.3,259.3l2.3,2.3l-2.3,2.3l-2.3,-2.3zM379.7,259.3l2.3,2.3l-2.3,2.3l-2.3,-2.3zM382.5,259.3l2.3,2.3l-2.3,2.3l-2.3,-2.3zM384.8,259.3l2.3,2.3l-2.3,2.3l-2.3,-2.3zM392.8,259.3l2.3,2.3l-2.3,2.3l-2.3,-2.3zM332.9,269.5l2.3,2.3l-2.3,2.3l-2.3,-2.3zM350.8,269.5l2.3,2.3l-2.3,2.3l-2.3,-2.3zM358.8,269.5l2.3,2.3l-2.3,2.3l-2.3,-2.3zM369.2,269.5l2.3,2.3l-2.3,2.3l-2.3,-2.3zM372.0,269.5l2.3,2.3l-2.3,2.3l-2.3,-2.3zM375.5,269.5l2.3,2.3l-2.3,2.3l-2.3,-2.3zM377.8,269.5l2.3,2.3l-2.3,2.3l-2.3,-2.3zM383.5,269.5l2.3,2.3l-2.3,2.3l-2.3,-2.3zM400.9,269.5l2.3,2.3l-2.3,2.3l-2.3,-2.3zM407.3,269.5l2.3,2.3l-2.3,2.3l-2.3,-2.3zM411.6,269.5l2.3,2.3l-2.3,2.3l-2.3,-2.3zM446.0,269.5l2.3,2.3l-2.3,2.3l-2.3,-2.3zM362.0,279.6l2.3,2.3l-2.3,2.3l-2.3,-2.3zM364.8,279.6l2.3,2.3l-2.3,2.3l-2.3,-2.3zM385.9,279.6l2.3,2.3l-2.3,2.3l-2.3,-2.3zM392.3,279.6l2.3,2.3l-2.3,2.3l-2.3,-2.3zM428.5,279.6l2.3,2.3l-2.3,2.3l-2.3,-2.3zM384.8,289.7l2.3,2.3l-2.3,2.3l-2.3,-2.3zM418.6,289.7l2.3,2.3l-2.3,2.3l-2.3,-2.3zM424.2,289.7l2.3,2.3l-2.3,2.3l-2.3,-2.3zM382.1,294.8l2.3,2.3l-2.3,2.3l-2.3,-2.3zM404.7,299.9l2.3,2.3l-2.3,2.3l-2.3,-2.3z" fill="#e8141c"/></g>
<g><text x="491.8" y="181.7" font-weight="bold" font-size="11.3" xml:space="preserve">F  HES_R to PCNU_R</text><text x="0" y="0" font-size="11.5" text-anchor="middle" transform="translate(502.0,252.5) rotate(-90)">MoCA score</text><text x="534.1" y="199.7" font-size="11.7">R = 0.321</text><text x="534.8" y="220.2" font-size="11.7"><tspan font-style="italic">P</tspan> < 0.05</text><path d="M526.8,192.9 V309.1 H705.3" fill="none" stroke="#1e1e1e" stroke-width="1.4" stroke-linecap="square"/><text x="519" y="312.20" font-size="10.5" text-anchor="end">20</text><text x="519" y="293.02" font-size="10.5" text-anchor="end">22</text><text x="519" y="273.83" font-size="10.5" text-anchor="end">24</text><text x="519" y="254.65" font-size="10.5" text-anchor="end">26</text><text x="519" y="235.47" font-size="10.5" text-anchor="end">28</text><text x="519" y="216.28" font-size="10.5" text-anchor="end">30</text><text x="519" y="197.10" font-size="10.5" text-anchor="end">32</text><text x="527.20" y="326.90" font-size="10.5" text-anchor="middle">–0.8</text><text x="556.40" y="326.90" font-size="10.5" text-anchor="middle">–0.6</text><text x="585.90" y="326.90" font-size="10.5" text-anchor="middle">–0.4</text><text x="615.20" y="326.90" font-size="10.5" text-anchor="middle">–0.2</text><text x="646.30" y="326.90" font-size="10.5" text-anchor="middle">0</text><text x="677.00" y="326.90" font-size="10.5" text-anchor="middle">0.2</text><text x="706.50" y="326.90" font-size="10.5" text-anchor="middle">0.4</text><path d="M521.5999999999999,309.10H526.8M521.5999999999999,289.73H526.8M521.5999999999999,270.37H526.8M521.5999999999999,251.00H526.8M521.5999999999999,231.63H526.8M521.5999999999999,212.27H526.8M521.5999999999999,192.90H526.8M526.80,309.1v5.5M556.55,309.1v5.5M586.30,309.1v5.5M616.05,309.1v5.5M645.80,309.1v5.5M675.55,309.1v5.5M705.30,309.1v5.5" fill="none" stroke="#1e1e1e" stroke-width="1.4"/><text x="618.8" y="339.9" font-size="11.5" text-anchor="middle">RSFC</text><path d="M551,268.2L695.5,238.2" stroke="#111" stroke-width="1.6" stroke-dasharray="5.2 4.2" fill="none"/><path d="M623.0,210.0l2.3,2.3l-2.3,2.3l-2.3,-2.3zM624.9,210.0l2.3,2.3l-2.3,2.3l-2.3,-2.3zM652.7,210.0l2.3,2.3l-2.3,2.3l-2.3,-2.3zM629.8,219.7l2.3,2.3l-2.3,2.3l-2.3,-2.3zM635.4,219.7l2.3,2.3l-2.3,2.3l-2.3,-2.3zM639.5,219.7l2.3,2.3l-2.3,2.3l-2.3,-2.3zM641.4,219.7l2.3,2.3l-2.3,2.3l-2.3,-2.3zM649.9,219.7l2.3,2.3l-2.3,2.3l-2.3,-2.3zM668.7,219.7l2.3,2.3l-2.3,2.3l-2.3,-2.3zM682.4,219.7l2.3,2.3l-2.3,2.3l-2.3,-2.3zM601.8,229.3l2.3,2.3l-2.3,2.3l-2.3,-2.3zM631.1,229.3l2.3,2.3l-2.3,2.3l-2.3,-2.3zM633.9,229.3l2.3,2.3l-2.3,2.3l-2.3,-2.3zM659.3,229.3l2.3,2.3l-2.3,2.3l-2.3,-2.3zM680.5,229.3l2.3,2.3l-2.3,2.3l-2.3,-2.3zM695.5,229.3l2.3,2.3l-2.3,2.3l-2.3,-2.3zM576.8,239.0l2.3,2.3l-2.3,2.3l-2.3,-2.3zM585.6,239.0l2.3,2.3l-2.3,2.3l-2.3,-2.3zM601.2,239.0l2.3,2.3l-2.3,2.3l-2.3,-2.3zM604.0,239.0l2.3,2.3l-2.3,2.3l-2.3,-2.3zM606.3,239.0l2.3,2.3l-2.3,2.3l-2.3,-2.3zM616.8,239.0l2.3,2.3l-2.3,2.3l-2.3,-2.3zM621.1,239.0l2.3,2.3l-2.3,2.3l-2.3,-2.3zM626.4,239.0l2.3,2.3l-2.3,2.3l-2.3,-2.3zM630.2,239.0l2.3,2.3l-2.3,2.3l-2.3,-2.3zM634.8,239.0l2.3,2.3l-2.3,2.3l-2.3,-2.3zM639.2,239.0l2.3,2.3l-2.3,2.3l-2.3,-2.3zM649.3,239.0l2.3,2.3l-2.3,2.3l-2.3,-2.3zM652.7,239.0l2.3,2.3l-2.3,2.3l-2.3,-2.3zM656.5,239.0l2.3,2.3l-2.3,2.3l-2.3,-2.3zM670.0,239.0l2.3,2.3l-2.3,2.3l-2.3,-2.3zM692.1,239.0l2.3,2.3l-2.3,2.3l-2.3,-2.3zM580.5,248.7l2.3,2.3l-2.3,2.3l-2.3,-2.3zM585.2,248.7l2.3,2.3l-2.3,2.3l-2.3,-2.3zM602.1,248.7l2.3,2.3l-2.3,2.3l-2.3,-2.3zM615.7,248.7l2.3,2.3l-2.3,2.3l-2.3,-2.3zM619.5,248.7l2.3,2.3l-2.3,2.3l-2.3,-2.3zM621.7,248.7l2.3,2.3l-2.3,2.3l-2.3,-2.3zM624.5,248.7l2.3,2.3l-2.3,2.3l-2.3,-2.3zM627.3,248.7l2.3,2.3l-2.3,2.3l-2.3,-2.3zM630.5,248.7l2.3,2.3l-2.3,2.3l-2.3,-2.3zM635.8,248.7l2.3,2.3l-2.3,2.3l-2.3,-2.3zM644.2,248.7l2.3,2.3l-2.3,2.3l-2.3,-2.3zM649.9,248.7l2.3,2.3l-2.3,2.3l-2.3,-2.3zM651.8,248.7l2.3,2.3l-2.3,2.3l-2.3,-2.3zM659.3,248.7l2.3,2.3l-2.3,2.3l-2.3,-2.3zM664.9,248.7l2.3,2.3l-2.3,2.3l-2.3,-2.3zM671.5,248.7l2.3,2.3l-2.3,2.3l-2.3,-2.3z" fill="#5690cc"/><path d="M580.0,258.4l2.3,2.3l-2.3,2.3l-2.3,-2.3zM583.7,258.4l2.3,2.3l-2.3,2.3l-2.3,-2.3zM603.1,258.4l2.3,2.3l-2.3,2.3l-2.3,-2.3zM605.9,258.4l2.3,2.3l-2.3,2.3l-2.3,-2.3zM611.5,258.4l2.3,2.3l-2.3,2.3l-2.3,-2.3zM619.3,258.4l2.3,2.3l-2.3,2.3l-2.3,-2.3zM633.5,258.4l2.3,2.3l-2.3,2.3l-2.3,-2.3zM648.0,258.4l2.3,2.3l-2.3,2.3l-2.3,-2.3zM654.6,258.4l2.3,2.3l-2.3,2.3l-2.3,-2.3zM658.0,258.4l2.3,2.3l-2.3,2.3l-2.3,-2.3zM559.3,268.1l2.3,2.3l-2.3,2.3l-2.3,-2.3zM563.6,268.1l2.3,2.3l-2.3,2.3l-2.3,-2.3zM581.9,268.1l2.3,2.3l-2.3,2.3l-2.3,-2.3zM589.9,268.1l2.3,2.3l-2.3,2.3l-2.3,-2.3zM596.9,268.1l2.3,2.3l-2.3,2.3l-2.3,-2.3zM599.9,268.1l2.3,2.3l-2.3,2.3l-2.3,-2.3zM614.9,268.1l2.3,2.3l-2.3,2.3l-2.3,-2.3zM618.5,268.1l2.3,2.3l-2.3,2.3l-2.3,-2.3zM621.1,268.1l2.3,2.3l-2.3,2.3l-2.3,-2.3zM630.5,268.1l2.3,2.3l-2.3,2.3l-2.3,-2.3zM634.3,268.1l2.3,2.3l-2.3,2.3l-2.3,-2.3zM659.8,268.1l2.3,2.3l-2.3,2.3l-2.3,-2.3zM663.0,268.1l2.3,2.3l-2.3,2.3l-2.3,-2.3zM603.1,277.8l2.3,2.3l-2.3,2.3l-2.3,-2.3zM623.6,277.8l2.3,2.3l-2.3,2.3l-2.3,-2.3zM625.5,277.8l2.3,2.3l-2.3,2.3l-2.3,-2.3zM646.1,277.8l2.3,2.3l-2.3,2.3l-2.3,-2.3zM654.2,277.8l2.3,2.3l-2.3,2.3l-2.3,-2.3zM607.4,287.4l2.3,2.3l-2.3,2.3l-2.3,-2.3zM633.5,287.4l2.3,2.3l-2.3,2.3l-2.3,-2.3zM655.0,287.4l2.3,2.3l-2.3,2.3l-2.3,-2.3zM614.4,292.3l2.3,2.3l-2.3,2.3l-2.3,-2.3zM552.0,297.1l2.3,2.3l-2.3,2.3l-2.3,-2.3z" fill="#e8141c"/></g>
<g><text x="0.8" y="354.7" font-weight="bold" font-size="11.3" xml:space="preserve">G  STGp_R to IOG_L</text><text x="0" y="0" font-size="11.5" text-anchor="middle" transform="translate(11.5,429.3) rotate(-90)">MoCA score</text><text x="48.6" y="456.5" font-size="11.7">R = –0.349</text><text x="49.2" y="476.9" font-size="11.7"><tspan font-style="italic">P</tspan> < 0.05</text><path d="M44.4,363.5 V486 H223" fill="none" stroke="#1e1e1e" stroke-width="1.4" stroke-linecap="square"/><text x="32.7" y="488.40" font-size="10.5" text-anchor="end">20</text><text x="32.7" y="468.50" font-size="10.5" text-anchor="end">22</text><text x="32.7" y="448.60" font-size="10.5" text-anchor="end">24</text><text x="32.7" y="428.70" font-size="10.5" text-anchor="end">26</text><text x="32.7" y="408.80" font-size="10.5" text-anchor="end">28</text><text x="32.7" y="388.90" font-size="10.5" text-anchor="end">30</text><text x="32.7" y="369.00" font-size="10.5" text-anchor="end">32</text><text x="42.20" y="502.80" font-size="10.5" text-anchor="middle">–0.8</text><text x="66.00" y="502.80" font-size="10.5" text-anchor="middle">–0.6</text><text x="89.70" y="502.80" font-size="10.5" text-anchor="middle">–0.4</text><text x="113.10" y="502.80" font-size="10.5" text-anchor="middle">–0.2</text><text x="135.20" y="502.80" font-size="10.5" text-anchor="middle">0</text><text x="156.90" y="502.80" font-size="10.5" text-anchor="middle">0.2</text><text x="177.50" y="502.80" font-size="10.5" text-anchor="middle">0.4</text><text x="200.80" y="502.80" font-size="10.5" text-anchor="middle">0.6</text><text x="224.40" y="502.80" font-size="10.5" text-anchor="middle">0.8</text><path d="M39.199999999999996,486.00H44.4M39.199999999999996,465.58H44.4M39.199999999999996,445.17H44.4M39.199999999999996,424.75H44.4M39.199999999999996,404.33H44.4M39.199999999999996,383.92H44.4M39.199999999999996,363.50H44.4M44.40,486v5.5M66.72,486v5.5M89.05,486v5.5M111.38,486v5.5M133.70,486v5.5M156.03,486v5.5M178.35,486v5.5M200.68,486v5.5M223.00,486v5.5" fill="none" stroke="#1e1e1e" stroke-width="1.4"/><text x="135.2" y="513.5" font-size="11.5" text-anchor="middle">RSFC</text><path d="M53,404.7L212.5,444.5" stroke="#111" stroke-width="1.6" stroke-dasharray="5.2 4.2" fill="none"/><path d="M119.1,381.6l2.3,2.3l-2.3,2.3l-2.3,-2.3zM130.0,381.6l2.3,2.3l-2.3,2.3l-2.3,-2.3zM154.7,381.6l2.3,2.3l-2.3,2.3l-2.3,-2.3zM53.4,391.8l2.3,2.3l-2.3,2.3l-2.3,-2.3zM75.0,391.8l2.3,2.3l-2.3,2.3l-2.3,-2.3zM88.5,391.8l2.3,2.3l-2.3,2.3l-2.3,-2.3zM104.1,391.8l2.3,2.3l-2.3,2.3l-2.3,-2.3zM106.9,391.8l2.3,2.3l-2.3,2.3l-2.3,-2.3zM115.0,391.8l2.3,2.3l-2.3,2.3l-2.3,-2.3zM200.1,391.8l2.3,2.3l-2.3,2.3l-2.3,-2.3zM102.2,402.0l2.3,2.3l-2.3,2.3l-2.3,-2.3zM114.4,402.0l2.3,2.3l-2.3,2.3l-2.3,-2.3zM121.0,402.0l2.3,2.3l-2.3,2.3l-2.3,-2.3zM125.2,402.0l2.3,2.3l-2.3,2.3l-2.3,-2.3zM144.9,402.0l2.3,2.3l-2.3,2.3l-2.3,-2.3zM160.7,402.0l2.3,2.3l-2.3,2.3l-2.3,-2.3zM96.6,412.2l2.3,2.3l-2.3,2.3l-2.3,-2.3zM102.2,412.2l2.3,2.3l-2.3,2.3l-2.3,-2.3zM105.6,412.2l2.3,2.3l-2.3,2.3l-2.3,-2.3zM116.3,412.2l2.3,2.3l-2.3,2.3l-2.3,-2.3zM119.1,412.2l2.3,2.3l-2.3,2.3l-2.3,-2.3zM127.6,412.2l2.3,2.3l-2.3,2.3l-2.3,-2.3zM139.3,412.2l2.3,2.3l-2.3,2.3l-2.3,-2.3zM142.5,412.2l2.3,2.3l-2.3,2.3l-2.3,-2.3zM144.9,412.2l2.3,2.3l-2.3,2.3l-2.3,-2.3zM147.5,412.2l2.3,2.3l-2.3,2.3l-2.3,-2.3zM150.9,412.2l2.3,2.3l-2.3,2.3l-2.3,-2.3zM162.2,412.2l2.3,2.3l-2.3,2.3l-2.3,-2.3zM173.1,412.2l2.3,2.3l-2.3,2.3l-2.3,-2.3zM180.0,412.2l2.3,2.3l-2.3,2.3l-2.3,-2.3zM196.0,412.2l2.3,2.3l-2.3,2.3l-2.3,-2.3zM98.9,422.4l2.3,2.3l-2.3,2.3l-2.3,-2.3zM104.5,422.4l2.3,2.3l-2.3,2.3l-2.3,-2.3zM107.5,422.4l2.3,2.3l-2.3,2.3l-2.3,-2.3zM122.0,422.4l2.3,2.3l-2.3,2.3l-2.3,-2.3zM125.2,422.4l2.3,2.3l-2.3,2.3l-2.3,-2.3zM128.2,422.4l2.3,2.3l-2.3,2.3l-2.3,-2.3zM131.9,422.4l2.3,2.3l-2.3,2.3l-2.3,-2.3zM134.9,422.4l2.3,2.3l-2.3,2.3l-2.3,-2.3zM150.5,422.4l2.3,2.3l-2.3,2.3l-2.3,-2.3zM154.3,422.4l2.3,2.3l-2.3,2.3l-2.3,-2.3zM158.0,422.4l2.3,2.3l-2.3,2.3l-2.3,-2.3zM167.8,422.4l2.3,2.3l-2.3,2.3l-2.3,-2.3zM175.0,422.4l2.3,2.3l-2.3,2.3l-2.3,-2.3zM176.3,422.4l2.3,2.3l-2.3,2.3l-2.3,-2.3z" fill="#5690cc"/><path d="M110.7,432.7l2.3,2.3l-2.3,2.3l-2.3,-2.3zM117.8,432.7l2.3,2.3l-2.3,2.3l-2.3,-2.3zM121.0,432.7l2.3,2.3l-2.3,2.3l-2.3,-2.3zM124.4,432.7l2.3,2.3l-2.3,2.3l-2.3,-2.3zM127.6,432.7l2.3,2.3l-2.3,2.3l-2.3,-2.3zM131.9,432.7l2.3,2.3l-2.3,2.3l-2.3,-2.3zM146.8,432.7l2.3,2.3l-2.3,2.3l-2.3,-2.3zM154.7,432.7l2.3,2.3l-2.3,2.3l-2.3,-2.3zM158.0,432.7l2.3,2.3l-2.3,2.3l-2.3,-2.3zM161.2,432.7l2.3,2.3l-2.3,2.3l-2.3,-2.3zM180.0,432.7l2.3,2.3l-2.3,2.3l-2.3,-2.3zM101.3,442.9l2.3,2.3l-2.3,2.3l-2.3,-2.3zM109.4,442.9l2.3,2.3l-2.3,2.3l-2.3,-2.3zM129.5,442.9l2.3,2.3l-2.3,2.3l-2.3,-2.3zM143.0,442.9l2.3,2.3l-2.3,2.3l-2.3,-2.3zM153.2,442.9l2.3,2.3l-2.3,2.3l-2.3,-2.3zM155.6,442.9l2.3,2.3l-2.3,2.3l-2.3,-2.3zM166.3,442.9l2.3,2.3l-2.3,2.3l-2.3,-2.3zM175.7,442.9l2.3,2.3l-2.3,2.3l-2.3,-2.3zM182.5,442.9l2.3,2.3l-2.3,2.3l-2.3,-2.3zM189.4,442.9l2.3,2.3l-2.3,2.3l-2.3,-2.3zM190.7,442.9l2.3,2.3l-2.3,2.3l-2.3,-2.3zM200.7,442.9l2.3,2.3l-2.3,2.3l-2.3,-2.3zM212.5,442.9l2.3,2.3l-2.3,2.3l-2.3,-2.3zM127.0,453.1l2.3,2.3l-2.3,2.3l-2.3,-2.3zM133.2,453.1l2.3,2.3l-2.3,2.3l-2.3,-2.3zM151.3,453.1l2.3,2.3l-2.3,2.3l-2.3,-2.3zM160.7,453.1l2.3,2.3l-2.3,2.3l-2.3,-2.3zM166.3,453.1l2.3,2.3l-2.3,2.3l-2.3,-2.3zM120.6,463.3l2.3,2.3l-2.3,2.3l-2.3,-2.3zM138.7,463.3l2.3,2.3l-2.3,2.3l-2.3,-2.3zM171.2,463.3l2.3,2.3l-2.3,2.3l-2.3,-2.3zM147.5,468.4l2.3,2.3l-2.3,2.3l-2.3,-2.3zM175.3,473.5l2.3,2.3l-2.3,2.3l-2.3,-2.3z" fill="#e8141c"/></g>
<g><text x="248.6" y="354.7" font-weight="bold" font-size="11.3" xml:space="preserve">H  MTG_L to MFG_orb_L</text><text x="0" y="0" font-size="11.5" text-anchor="middle" transform="translate(259.40000000000003,429.3) rotate(-90)">MoCA score</text><text x="405.2" y="374.5" font-size="11.7">R = –0.307</text><text x="405.9" y="395.2" font-size="11.7"><tspan font-style="italic">P</tspan> < 0.05</text><path d="M285.4,363.8 V483.5 H469.2" fill="none" stroke="#1e1e1e" stroke-width="1.4" stroke-linecap="square"/><text x="275.9" y="486.10" font-size="10.5" text-anchor="end">20</text><text x="275.9" y="466.42" font-size="10.5" text-anchor="end">22</text><text x="275.9" y="446.73" font-size="10.5" text-anchor="end">24</text><text x="275.9" y="427.05" font-size="10.5" text-anchor="end">26</text><text x="275.9" y="407.37" font-size="10.5" text-anchor="end">28</text><text x="275.9" y="387.68" font-size="10.5" text-anchor="end">30</text><text x="275.9" y="368.00" font-size="10.5" text-anchor="end">32</text><text x="285.40" y="502.30" font-size="10.5" text-anchor="middle">–0.6</text><text x="308.80" y="502.30" font-size="10.5" text-anchor="middle">–0.4</text><text x="332.50" y="502.30" font-size="10.5" text-anchor="middle">–0.2</text><text x="354.50" y="502.30" font-size="10.5" text-anchor="middle">0</text><text x="376.50" y="502.30" font-size="10.5" text-anchor="middle">0.2</text><text x="399.90" y="502.30" font-size="10.5" text-anchor="middle">0.4</text><text x="423.80" y="502.30" font-size="10.5" text-anchor="middle">0.6</text><text x="447.20" y="502.30" font-size="10.5" text-anchor="middle">0.8</text><text x="468.80" y="502.30" font-size="10.5" text-anchor="middle">1</text><path d="M280.2,483.50H285.4M280.2,463.55H285.4M280.2,443.60H285.4M280.2,423.65H285.4M280.2,403.70H285.4M280.2,383.75H285.4M280.2,363.80H285.4M285.40,483.5v5.5M308.38,483.5v5.5M331.35,483.5v5.5M354.32,483.5v5.5M377.30,483.5v5.5M400.27,483.5v5.5M423.25,483.5v5.5M446.23,483.5v5.5M469.20,483.5v5.5" fill="none" stroke="#1e1e1e" stroke-width="1.4"/><text x="375.4" y="513.5" font-size="11.5" text-anchor="middle">RSFC</text><path d="M307.2,410.3L457.8,442.3" stroke="#111" stroke-width="1.6" stroke-dasharray="5.2 4.2" fill="none"/><path d="M329.1,381.4l2.3,2.3l-2.3,2.3l-2.3,-2.3zM335.3,381.4l2.3,2.3l-2.3,2.3l-2.3,-2.3zM353.0,381.4l2.3,2.3l-2.3,2.3l-2.3,-2.3zM357.3,391.4l2.3,2.3l-2.3,2.3l-2.3,-2.3zM365.4,391.4l2.3,2.3l-2.3,2.3l-2.3,-2.3zM367.7,391.4l2.3,2.3l-2.3,2.3l-2.3,-2.3zM369.9,391.4l2.3,2.3l-2.3,2.3l-2.3,-2.3zM377.5,391.4l2.3,2.3l-2.3,2.3l-2.3,-2.3zM349.8,401.4l2.3,2.3l-2.3,2.3l-2.3,-2.3zM376.5,401.4l2.3,2.3l-2.3,2.3l-2.3,-2.3zM384.5,401.4l2.3,2.3l-2.3,2.3l-2.3,-2.3zM394.3,401.4l2.3,2.3l-2.3,2.3l-2.3,-2.3zM411.2,401.4l2.3,2.3l-2.3,2.3l-2.3,-2.3zM307.5,411.4l2.3,2.3l-2.3,2.3l-2.3,-2.3zM318.4,411.4l2.3,2.3l-2.3,2.3l-2.3,-2.3zM326.3,411.4l2.3,2.3l-2.3,2.3l-2.3,-2.3zM338.0,411.4l2.3,2.3l-2.3,2.3l-2.3,-2.3zM347.4,411.4l2.3,2.3l-2.3,2.3l-2.3,-2.3zM350.4,411.4l2.3,2.3l-2.3,2.3l-2.3,-2.3zM356.8,411.4l2.3,2.3l-2.3,2.3l-2.3,-2.3zM360.5,411.4l2.3,2.3l-2.3,2.3l-2.3,-2.3zM366.7,411.4l2.3,2.3l-2.3,2.3l-2.3,-2.3zM377.2,411.4l2.3,2.3l-2.3,2.3l-2.3,-2.3zM380.4,411.4l2.3,2.3l-2.3,2.3l-2.3,-2.3zM387.3,411.4l2.3,2.3l-2.3,2.3l-2.3,-2.3zM392.4,411.4l2.3,2.3l-2.3,2.3l-2.3,-2.3zM408.6,411.4l2.3,2.3l-2.3,2.3l-2.3,-2.3zM411.2,411.4l2.3,2.3l-2.3,2.3l-2.3,-2.3zM414.6,411.4l2.3,2.3l-2.3,2.3l-2.3,-2.3zM419.8,411.4l2.3,2.3l-2.3,2.3l-2.3,-2.3zM320.7,421.3l2.3,2.3l-2.3,2.3l-2.3,-2.3zM324.5,421.3l2.3,2.3l-2.3,2.3l-2.3,-2.3zM352.3,421.3l2.3,2.3l-2.3,2.3l-2.3,-2.3zM354.9,421.3l2.3,2.3l-2.3,2.3l-2.3,-2.3zM357.9,421.3l2.3,2.3l-2.3,2.3l-2.3,-2.3zM360.5,421.3l2.3,2.3l-2.3,2.3l-2.3,-2.3zM363.5,421.3l2.3,2.3l-2.3,2.3l-2.3,-2.3zM366.2,421.3l2.3,2.3l-2.3,2.3l-2.3,-2.3zM369.2,421.3l2.3,2.3l-2.3,2.3l-2.3,-2.3zM372.4,421.3l2.3,2.3l-2.3,2.3l-2.3,-2.3zM375.2,421.3l2.3,2.3l-2.3,2.3l-2.3,-2.3zM377.5,421.3l2.3,2.3l-2.3,2.3l-2.3,-2.3zM382.6,421.3l2.3,2.3l-2.3,2.3l-2.3,-2.3zM385.5,421.3l2.3,2.3l-2.3,2.3l-2.3,-2.3zM388.6,421.3l2.3,2.3l-2.3,2.3l-2.3,-2.3zM393.0,421.3l2.3,2.3l-2.3,2.3l-2.3,-2.3zM398.6,421.3l2.3,2.3l-2.3,2.3l-2.3,-2.3z" fill="#5690cc"/><path d="M368.6,431.3l2.3,2.3l-2.3,2.3l-2.3,-2.3zM375.2,431.3l2.3,2.3l-2.3,2.3l-2.3,-2.3zM377.5,431.3l2.3,2.3l-2.3,2.3l-2.3,-2.3zM380.4,431.3l2.3,2.3l-2.3,2.3l-2.3,-2.3zM384.5,431.3l2.3,2.3l-2.3,2.3l-2.3,-2.3zM393.0,431.3l2.3,2.3l-2.3,2.3l-2.3,-2.3zM396.7,431.3l2.3,2.3l-2.3,2.3l-2.3,-2.3zM403.3,431.3l2.3,2.3l-2.3,2.3l-2.3,-2.3zM411.8,431.3l2.3,2.3l-2.3,2.3l-2.3,-2.3zM457.4,431.3l2.3,2.3l-2.3,2.3l-2.3,-2.3zM343.6,441.3l2.3,2.3l-2.3,2.3l-2.3,-2.3zM346.6,441.3l2.3,2.3l-2.3,2.3l-2.3,-2.3zM348.9,441.3l2.3,2.3l-2.3,2.3l-2.3,-2.3zM351.7,441.3l2.3,2.3l-2.3,2.3l-2.3,-2.3zM363.9,441.3l2.3,2.3l-2.3,2.3l-2.3,-2.3zM367.3,441.3l2.3,2.3l-2.3,2.3l-2.3,-2.3zM370.5,441.3l2.3,2.3l-2.3,2.3l-2.3,-2.3zM376.5,441.3l2.3,2.3l-2.3,2.3l-2.3,-2.3zM391.1,441.3l2.3,2.3l-2.3,2.3l-2.3,-2.3zM393.9,441.3l2.3,2.3l-2.3,2.3l-2.3,-2.3zM396.7,441.3l2.3,2.3l-2.3,2.3l-2.3,-2.3zM399.5,441.3l2.3,2.3l-2.3,2.3l-2.3,-2.3zM402.9,441.3l2.3,2.3l-2.3,2.3l-2.3,-2.3zM427.3,441.3l2.3,2.3l-2.3,2.3l-2.3,-2.3zM433.7,441.3l2.3,2.3l-2.3,2.3l-2.3,-2.3zM357.9,451.3l2.3,2.3l-2.3,2.3l-2.3,-2.3zM369.9,451.3l2.3,2.3l-2.3,2.3l-2.3,-2.3zM393.0,451.3l2.3,2.3l-2.3,2.3l-2.3,-2.3zM403.7,451.3l2.3,2.3l-2.3,2.3l-2.3,-2.3zM367.3,461.2l2.3,2.3l-2.3,2.3l-2.3,-2.3zM417.4,461.2l2.3,2.3l-2.3,2.3l-2.3,-2.3zM440.5,461.2l2.3,2.3l-2.3,2.3l-2.3,-2.3zM345.5,466.2l2.3,2.3l-2.3,2.3l-2.3,-2.3zM408.6,471.2l2.3,2.3l-2.3,2.3l-2.3,-2.3z" fill="#e8141c"/></g>
<g><text x="491.8" y="354.7" font-weight="bold" font-size="11.3" xml:space="preserve">I  MTGp_L to MFG_L</text><text x="0" y="0" font-size="11.5" text-anchor="middle" transform="translate(502.0,429.3) rotate(-90)">MoCA score</text><text x="646.1" y="374.5" font-size="11.7">R = –0.348</text><text x="646.8" y="395.2" font-size="11.7"><tspan font-style="italic">P</tspan> < 0.05</text><path d="M526.8,363.5 V483 H707.5" fill="none" stroke="#1e1e1e" stroke-width="1.4" stroke-linecap="square"/><text x="518.8" y="485.80" font-size="10.5" text-anchor="end">20</text><text x="518.8" y="466.12" font-size="10.5" text-anchor="end">22</text><text x="518.8" y="446.43" font-size="10.5" text-anchor="end">24</text><text x="518.8" y="426.75" font-size="10.5" text-anchor="end">26</text><text x="518.8" y="407.07" font-size="10.5" text-anchor="end">28</text><text x="518.8" y="387.38" font-size="10.5" text-anchor="end">30</text><text x="518.8" y="367.70" font-size="10.5" text-anchor="end">32</text><text x="526.90" y="500.80" font-size="10.5" text-anchor="middle">–1</text><text x="546.50" y="500.80" font-size="10.5" text-anchor="middle">–0.8</text><text x="570.30" y="500.80" font-size="10.5" text-anchor="middle">–0.6</text><text x="593.50" y="500.80" font-size="10.5" text-anchor="middle">–0.4</text><text x="617.00" y="500.80" font-size="10.5" text-anchor="middle">–0.2</text><text x="639.10" y="500.80" font-size="10.5" text-anchor="middle">0</text><text x="661.20" y="500.80" font-size="10.5" text-anchor="middle">0.2</text><text x="684.50" y="500.80" font-size="10.5" text-anchor="middle">0.4</text><text x="708.00" y="500.80" font-size="10.5" text-anchor="middle">0.6</text><path d="M521.5999999999999,483.00H526.8M521.5999999999999,463.08H526.8M521.5999999999999,443.17H526.8M521.5999999999999,423.25H526.8M521.5999999999999,403.33H526.8M521.5999999999999,383.42H526.8M521.5999999999999,363.50H526.8M526.80,483v5.5M549.39,483v5.5M571.97,483v5.5M594.56,483v5.5M617.15,483v5.5M639.74,483v5.5M662.33,483v5.5M684.91,483v5.5M707.50,483v5.5" fill="none" stroke="#1e1e1e" stroke-width="1.4"/><text x="618.8" y="513.5" font-size="11.5" text-anchor="middle">RSFC</text><path d="M549.2,407.9L680.5,439.8" stroke="#111" stroke-width="1.6" stroke-dasharray="5.2 4.2" fill="none"/><path d="M549.9,381.1l2.3,2.3l-2.3,2.3l-2.3,-2.3zM566.8,381.1l2.3,2.3l-2.3,2.3l-2.3,-2.3zM607.8,381.1l2.3,2.3l-2.3,2.3l-2.3,-2.3zM574.9,391.1l2.3,2.3l-2.3,2.3l-2.3,-2.3zM606.8,391.1l2.3,2.3l-2.3,2.3l-2.3,-2.3zM611.2,391.1l2.3,2.3l-2.3,2.3l-2.3,-2.3zM613.0,391.1l2.3,2.3l-2.3,2.3l-2.3,-2.3zM619.8,391.1l2.3,2.3l-2.3,2.3l-2.3,-2.3zM624.9,391.1l2.3,2.3l-2.3,2.3l-2.3,-2.3zM558.6,401.0l2.3,2.3l-2.3,2.3l-2.3,-2.3zM562.3,401.0l2.3,2.3l-2.3,2.3l-2.3,-2.3zM585.6,401.0l2.3,2.3l-2.3,2.3l-2.3,-2.3zM601.8,401.0l2.3,2.3l-2.3,2.3l-2.3,-2.3zM627.3,401.0l2.3,2.3l-2.3,2.3l-2.3,-2.3zM579.2,411.0l2.3,2.3l-2.3,2.3l-2.3,-2.3zM582.4,411.0l2.3,2.3l-2.3,2.3l-2.3,-2.3zM585.6,411.0l2.3,2.3l-2.3,2.3l-2.3,-2.3zM596.1,411.0l2.3,2.3l-2.3,2.3l-2.3,-2.3zM614.4,411.0l2.3,2.3l-2.3,2.3l-2.3,-2.3zM618.9,411.0l2.3,2.3l-2.3,2.3l-2.3,-2.3zM622.6,411.0l2.3,2.3l-2.3,2.3l-2.3,-2.3zM629.2,411.0l2.3,2.3l-2.3,2.3l-2.3,-2.3zM632.4,411.0l2.3,2.3l-2.3,2.3l-2.3,-2.3zM635.8,411.0l2.3,2.3l-2.3,2.3l-2.3,-2.3zM647.4,411.0l2.3,2.3l-2.3,2.3l-2.3,-2.3zM659.8,411.0l2.3,2.3l-2.3,2.3l-2.3,-2.3zM671.5,411.0l2.3,2.3l-2.3,2.3l-2.3,-2.3zM560.4,420.9l2.3,2.3l-2.3,2.3l-2.3,-2.3zM574.3,420.9l2.3,2.3l-2.3,2.3l-2.3,-2.3zM577.7,420.9l2.3,2.3l-2.3,2.3l-2.3,-2.3zM583.4,420.9l2.3,2.3l-2.3,2.3l-2.3,-2.3zM586.7,420.9l2.3,2.3l-2.3,2.3l-2.3,-2.3zM589.9,420.9l2.3,2.3l-2.3,2.3l-2.3,-2.3zM602.5,420.9l2.3,2.3l-2.3,2.3l-2.3,-2.3zM605.0,420.9l2.3,2.3l-2.3,2.3l-2.3,-2.3zM613.0,420.9l2.3,2.3l-2.3,2.3l-2.3,-2.3zM616.2,420.9l2.3,2.3l-2.3,2.3l-2.3,-2.3zM621.1,420.9l2.3,2.3l-2.3,2.3l-2.3,-2.3zM624.5,420.9l2.3,2.3l-2.3,2.3l-2.3,-2.3zM627.3,420.9l2.3,2.3l-2.3,2.3l-2.3,-2.3zM630.5,420.9l2.3,2.3l-2.3,2.3l-2.3,-2.3zM640.5,420.9l2.3,2.3l-2.3,2.3l-2.3,-2.3zM652.7,420.9l2.3,2.3l-2.3,2.3l-2.3,-2.3zM664.3,420.9l2.3,2.3l-2.3,2.3l-2.3,-2.3zM671.9,420.9l2.3,2.3l-2.3,2.3l-2.3,-2.3z" fill="#5690cc"/><path d="M575.5,430.9l2.3,2.3l-2.3,2.3l-2.3,-2.3zM598.8,430.9l2.3,2.3l-2.3,2.3l-2.3,-2.3zM601.2,430.9l2.3,2.3l-2.3,2.3l-2.3,-2.3zM605.0,430.9l2.3,2.3l-2.3,2.3l-2.3,-2.3zM608.2,430.9l2.3,2.3l-2.3,2.3l-2.3,-2.3zM627.3,430.9l2.3,2.3l-2.3,2.3l-2.3,-2.3zM631.7,430.9l2.3,2.3l-2.3,2.3l-2.3,-2.3zM635.4,430.9l2.3,2.3l-2.3,2.3l-2.3,-2.3zM643.3,430.9l2.3,2.3l-2.3,2.3l-2.3,-2.3zM650.4,430.9l2.3,2.3l-2.3,2.3l-2.3,-2.3zM653.1,430.9l2.3,2.3l-2.3,2.3l-2.3,-2.3zM680.0,430.9l2.3,2.3l-2.3,2.3l-2.3,-2.3zM582.4,440.9l2.3,2.3l-2.3,2.3l-2.3,-2.3zM586.7,440.9l2.3,2.3l-2.3,2.3l-2.3,-2.3zM598.0,440.9l2.3,2.3l-2.3,2.3l-2.3,-2.3zM601.8,440.9l2.3,2.3l-2.3,2.3l-2.3,-2.3zM608.2,440.9l2.3,2.3l-2.3,2.3l-2.3,-2.3zM617.0,440.9l2.3,2.3l-2.3,2.3l-2.3,-2.3zM621.1,440.9l2.3,2.3l-2.3,2.3l-2.3,-2.3zM634.3,440.9l2.3,2.3l-2.3,2.3l-2.3,-2.3zM637.3,440.9l2.3,2.3l-2.3,2.3l-2.3,-2.3zM640.5,440.9l2.3,2.3l-2.3,2.3l-2.3,-2.3zM642.9,440.9l2.3,2.3l-2.3,2.3l-2.3,-2.3zM653.6,440.9l2.3,2.3l-2.3,2.3l-2.3,-2.3zM657.4,440.9l2.3,2.3l-2.3,2.3l-2.3,-2.3zM661.1,440.9l2.3,2.3l-2.3,2.3l-2.3,-2.3zM606.3,450.8l2.3,2.3l-2.3,2.3l-2.3,-2.3zM615.7,450.8l2.3,2.3l-2.3,2.3l-2.3,-2.3zM619.3,450.8l2.3,2.3l-2.3,2.3l-2.3,-2.3zM633.5,450.8l2.3,2.3l-2.3,2.3l-2.3,-2.3zM640.5,450.8l2.3,2.3l-2.3,2.3l-2.3,-2.3zM633.0,460.8l2.3,2.3l-2.3,2.3l-2.3,-2.3zM639.2,460.8l2.3,2.3l-2.3,2.3l-2.3,-2.3zM653.6,460.8l2.3,2.3l-2.3,2.3l-2.3,-2.3zM618.5,465.8l2.3,2.3l-2.3,2.3l-2.3,-2.3zM629.8,470.7l2.3,2.3l-2.3,2.3l-2.3,-2.3z" fill="#e8141c"/></g>
<g><text x="0.8" y="529.5" font-weight="bold" font-size="11.3" xml:space="preserve">J  HES_L to INS_L</text><text x="0" y="0" font-size="11.5" text-anchor="middle" transform="translate(11.5,599.4) rotate(-90)">MoCA score</text><text x="167.8" y="555.1" font-size="11.7">R = –0.305</text><text x="168.4" y="575.7" font-size="11.7"><tspan font-style="italic">P</tspan> = 0.069</text><path d="M44.7,542.7 V656.8 H226.7" fill="none" stroke="#1e1e1e" stroke-width="1.4" stroke-linecap="square"/><text x="32.6" y="660.30" font-size="10.5" text-anchor="end">20</text><text x="32.6" y="641.28" font-size="10.5" text-anchor="end">22</text><text x="32.6" y="622.27" font-size="10.5" text-anchor="end">24</text><text x="32.6" y="603.25" font-size="10.5" text-anchor="end">26</text><text x="32.6" y="584.23" font-size="10.5" text-anchor="end">28</text><text x="32.6" y="565.22" font-size="10.5" text-anchor="end">30</text><text x="32.6" y="546.20" font-size="10.5" text-anchor="end">32</text><text x="43.10" y="674.60" font-size="10.5" text-anchor="middle">–0.8</text><text x="66.50" y="674.60" font-size="10.5" text-anchor="middle">–0.4</text><text x="97.40" y="674.60" font-size="10.5" text-anchor="middle">0</text><text x="121.80" y="674.60" font-size="10.5" text-anchor="middle">0.4</text><text x="149.20" y="674.60" font-size="10.5" text-anchor="middle">0.8</text><text x="175.70" y="674.60" font-size="10.5" text-anchor="middle">1.2</text><text x="201.90" y="674.60" font-size="10.5" text-anchor="middle">1.6</text><text x="226.80" y="674.60" font-size="10.5" text-anchor="middle">2</text><path d="M39.5,656.80H44.7M39.5,637.78H44.7M39.5,618.77H44.7M39.5,599.75H44.7M39.5,580.73H44.7M39.5,561.72H44.7M39.5,542.70H44.7M44.70,656.8v5.5M70.70,656.8v5.5M96.70,656.8v5.5M122.70,656.8v5.5M148.70,656.8v5.5M174.70,656.8v5.5M200.70,656.8v5.5M226.70,656.8v5.5" fill="none" stroke="#1e1e1e" stroke-width="1.4"/><text x="135.2" y="690" font-size="11.5" text-anchor="middle">RSFC</text><path d="M75.1,580.7L198.3,617.7" stroke="#111" stroke-width="1.6" stroke-dasharray="5.2 4.2" fill="none"/><path d="M126.2,559.4l2.3,2.3l-2.3,2.3l-2.3,-2.3zM142.9,559.4l2.3,2.3l-2.3,2.3l-2.3,-2.3zM99.6,568.9l2.3,2.3l-2.3,2.3l-2.3,-2.3zM117.2,568.9l2.3,2.3l-2.3,2.3l-2.3,-2.3zM134.3,568.9l2.3,2.3l-2.3,2.3l-2.3,-2.3zM138.7,568.9l2.3,2.3l-2.3,2.3l-2.3,-2.3zM148.6,568.9l2.3,2.3l-2.3,2.3l-2.3,-2.3zM156.2,568.9l2.3,2.3l-2.3,2.3l-2.3,-2.3zM120.8,578.4l2.3,2.3l-2.3,2.3l-2.3,-2.3zM122.6,578.4l2.3,2.3l-2.3,2.3l-2.3,-2.3zM132.2,578.4l2.3,2.3l-2.3,2.3l-2.3,-2.3zM150.1,578.4l2.3,2.3l-2.3,2.3l-2.3,-2.3zM153.7,578.4l2.3,2.3l-2.3,2.3l-2.3,-2.3zM158.0,578.4l2.3,2.3l-2.3,2.3l-2.3,-2.3zM122.6,587.9l2.3,2.3l-2.3,2.3l-2.3,-2.3zM126.2,587.9l2.3,2.3l-2.3,2.3l-2.3,-2.3zM128.9,587.9l2.3,2.3l-2.3,2.3l-2.3,-2.3zM134.3,587.9l2.3,2.3l-2.3,2.3l-2.3,-2.3zM136.9,587.9l2.3,2.3l-2.3,2.3l-2.3,-2.3zM141.8,587.9l2.3,2.3l-2.3,2.3l-2.3,-2.3zM150.8,587.9l2.3,2.3l-2.3,2.3l-2.3,-2.3zM154.1,587.9l2.3,2.3l-2.3,2.3l-2.3,-2.3zM171.8,587.9l2.3,2.3l-2.3,2.3l-2.3,-2.3zM98.2,597.5l2.3,2.3l-2.3,2.3l-2.3,-2.3zM107.2,597.5l2.3,2.3l-2.3,2.3l-2.3,-2.3zM117.2,597.5l2.3,2.3l-2.3,2.3l-2.3,-2.3zM124.9,597.5l2.3,2.3l-2.3,2.3l-2.3,-2.3zM132.2,597.5l2.3,2.3l-2.3,2.3l-2.3,-2.3zM136.9,597.5l2.3,2.3l-2.3,2.3l-2.3,-2.3zM149.5,597.5l2.3,2.3l-2.3,2.3l-2.3,-2.3zM152.3,597.5l2.3,2.3l-2.3,2.3l-2.3,-2.3zM155.0,597.5l2.3,2.3l-2.3,2.3l-2.3,-2.3zM158.0,597.5l2.3,2.3l-2.3,2.3l-2.3,-2.3zM165.8,597.5l2.3,2.3l-2.3,2.3l-2.3,-2.3zM170.3,597.5l2.3,2.3l-2.3,2.3l-2.3,-2.3z" fill="#5690cc"/><path d="M76.2,607.0l2.3,2.3l-2.3,2.3l-2.3,-2.3zM92.4,607.0l2.3,2.3l-2.3,2.3l-2.3,-2.3zM125.6,607.0l2.3,2.3l-2.3,2.3l-2.3,-2.3zM128.9,607.0l2.3,2.3l-2.3,2.3l-2.3,-2.3zM135.5,607.0l2.3,2.3l-2.3,2.3l-2.3,-2.3zM143.6,607.0l2.3,2.3l-2.3,2.3l-2.3,-2.3zM146.5,607.0l2.3,2.3l-2.3,2.3l-2.3,-2.3zM149.0,607.0l2.3,2.3l-2.3,2.3l-2.3,-2.3zM154.1,607.0l2.3,2.3l-2.3,2.3l-2.3,-2.3zM130.3,616.5l2.3,2.3l-2.3,2.3l-2.3,-2.3zM132.9,616.5l2.3,2.3l-2.3,2.3l-2.3,-2.3zM139.3,616.5l2.3,2.3l-2.3,2.3l-2.3,-2.3zM145.9,616.5l2.3,2.3l-2.3,2.3l-2.3,-2.3zM151.4,616.5l2.3,2.3l-2.3,2.3l-2.3,-2.3zM154.1,616.5l2.3,2.3l-2.3,2.3l-2.3,-2.3zM156.8,616.5l2.3,2.3l-2.3,2.3l-2.3,-2.3zM159.8,616.5l2.3,2.3l-2.3,2.3l-2.3,-2.3zM164.0,616.5l2.3,2.3l-2.3,2.3l-2.3,-2.3zM176.1,616.5l2.3,2.3l-2.3,2.3l-2.3,-2.3zM181.5,616.5l2.3,2.3l-2.3,2.3l-2.3,-2.3zM198.3,616.5l2.3,2.3l-2.3,2.3l-2.3,-2.3zM128.5,626.0l2.3,2.3l-2.3,2.3l-2.3,-2.3zM145.0,626.0l2.3,2.3l-2.3,2.3l-2.3,-2.3zM150.8,626.0l2.3,2.3l-2.3,2.3l-2.3,-2.3zM152.6,626.0l2.3,2.3l-2.3,2.3l-2.3,-2.3zM142.9,635.5l2.3,2.3l-2.3,2.3l-2.3,-2.3zM166.3,635.5l2.3,2.3l-2.3,2.3l-2.3,-2.3zM170.0,635.5l2.3,2.3l-2.3,2.3l-2.3,-2.3zM153.7,640.2l2.3,2.3l-2.3,2.3l-2.3,-2.3zM169.4,645.0l2.3,2.3l-2.3,2.3l-2.3,-2.3z" fill="#e8141c"/></g>
<g><text x="248.6" y="529.5" font-weight="bold" font-size="11.3" xml:space="preserve">K  LING_R to IFG_tri_R</text><text x="0" y="0" font-size="11.5" text-anchor="middle" transform="translate(259.40000000000003,599.4) rotate(-90)">MoCA score</text><text x="405.2" y="554.7" font-size="11.7">R = –0.297</text><text x="405.9" y="575.5" font-size="11.7"><tspan font-style="italic">P</tspan> = 0.069</text><path d="M285.4,538.7 V661.1 H464.6" fill="none" stroke="#1e1e1e" stroke-width="1.4" stroke-linecap="square"/><text x="275.1" y="663.40" font-size="10.5" text-anchor="end">20</text><text x="275.1" y="643.52" font-size="10.5" text-anchor="end">22</text><text x="275.1" y="623.63" font-size="10.5" text-anchor="end">24</text><text x="275.1" y="603.75" font-size="10.5" text-anchor="end">26</text><text x="275.1" y="583.87" font-size="10.5" text-anchor="end">28</text><text x="275.1" y="563.98" font-size="10.5" text-anchor="end">30</text><text x="275.1" y="544.10" font-size="10.5" text-anchor="end">32</text><text x="285.40" y="678.90" font-size="10.5" text-anchor="middle">–0.8</text><text x="329.20" y="678.90" font-size="10.5" text-anchor="middle">–0.4</text><text x="375.00" y="678.90" font-size="10.5" text-anchor="middle">0</text><text x="417.50" y="678.90" font-size="10.5" text-anchor="middle">0.4</text><text x="461.80" y="678.90" font-size="10.5" text-anchor="middle">0.8</text><path d="M280.2,661.10H285.4M280.2,640.70H285.4M280.2,620.30H285.4M280.2,599.90H285.4M280.2,579.50H285.4M280.2,559.10H285.4M280.2,538.70H285.4M285.40,661.1v5.5M330.20,661.1v5.5M375.00,661.1v5.5M419.80,661.1v5.5M464.60,661.1v5.5" fill="none" stroke="#1e1e1e" stroke-width="1.4"/><text x="375.4" y="690" font-size="11.5" text-anchor="middle">RSFC</text><path d="M298.2,589.9L439.8,621.8" stroke="#111" stroke-width="1.6" stroke-dasharray="5.2 4.2" fill="none"/><path d="M318.8,556.8l2.3,2.3l-2.3,2.3l-2.3,-2.3zM326.3,556.8l2.3,2.3l-2.3,2.3l-2.3,-2.3zM346.1,556.8l2.3,2.3l-2.3,2.3l-2.3,-2.3zM318.4,567.0l2.3,2.3l-2.3,2.3l-2.3,-2.3zM332.3,567.0l2.3,2.3l-2.3,2.3l-2.3,-2.3zM334.2,567.0l2.3,2.3l-2.3,2.3l-2.3,-2.3zM342.9,567.0l2.3,2.3l-2.3,2.3l-2.3,-2.3zM369.9,567.0l2.3,2.3l-2.3,2.3l-2.3,-2.3zM373.8,567.0l2.3,2.3l-2.3,2.3l-2.3,-2.3zM299.1,577.2l2.3,2.3l-2.3,2.3l-2.3,-2.3zM310.9,577.2l2.3,2.3l-2.3,2.3l-2.3,-2.3zM327.8,577.2l2.3,2.3l-2.3,2.3l-2.3,-2.3zM334.8,577.2l2.3,2.3l-2.3,2.3l-2.3,-2.3zM369.5,577.2l2.3,2.3l-2.3,2.3l-2.3,-2.3zM313.2,587.4l2.3,2.3l-2.3,2.3l-2.3,-2.3zM318.4,587.4l2.3,2.3l-2.3,2.3l-2.3,-2.3zM321.1,587.4l2.3,2.3l-2.3,2.3l-2.3,-2.3zM326.7,587.4l2.3,2.3l-2.3,2.3l-2.3,-2.3zM329.7,587.4l2.3,2.3l-2.3,2.3l-2.3,-2.3zM332.0,587.4l2.3,2.3l-2.3,2.3l-2.3,-2.3zM341.4,587.4l2.3,2.3l-2.3,2.3l-2.3,-2.3zM343.6,587.4l2.3,2.3l-2.3,2.3l-2.3,-2.3zM349.8,587.4l2.3,2.3l-2.3,2.3l-2.3,-2.3zM360.1,587.4l2.3,2.3l-2.3,2.3l-2.3,-2.3zM363.0,587.4l2.3,2.3l-2.3,2.3l-2.3,-2.3zM365.8,587.4l2.3,2.3l-2.3,2.3l-2.3,-2.3zM369.5,587.4l2.3,2.3l-2.3,2.3l-2.3,-2.3zM377.3,587.4l2.3,2.3l-2.3,2.3l-2.3,-2.3zM382.9,587.4l2.3,2.3l-2.3,2.3l-2.3,-2.3zM302.8,597.6l2.3,2.3l-2.3,2.3l-2.3,-2.3zM307.5,597.6l2.3,2.3l-2.3,2.3l-2.3,-2.3zM309.8,597.6l2.3,2.3l-2.3,2.3l-2.3,-2.3zM318.4,597.6l2.3,2.3l-2.3,2.3l-2.3,-2.3zM325.4,597.6l2.3,2.3l-2.3,2.3l-2.3,-2.3zM331.0,597.6l2.3,2.3l-2.3,2.3l-2.3,-2.3zM338.0,597.6l2.3,2.3l-2.3,2.3l-2.3,-2.3zM341.4,597.6l2.3,2.3l-2.3,2.3l-2.3,-2.3zM344.2,597.6l2.3,2.3l-2.3,2.3l-2.3,-2.3zM347.0,597.6l2.3,2.3l-2.3,2.3l-2.3,-2.3zM349.8,597.6l2.3,2.3l-2.3,2.3l-2.3,-2.3zM362.4,597.6l2.3,2.3l-2.3,2.3l-2.3,-2.3zM371.8,597.6l2.3,2.3l-2.3,2.3l-2.3,-2.3zM377.8,597.6l2.3,2.3l-2.3,2.3l-2.3,-2.3zM391.5,597.6l2.3,2.3l-2.3,2.3l-2.3,-2.3zM438.9,597.6l2.3,2.3l-2.3,2.3l-2.3,-2.3z" fill="#5690cc"/><path d="M315.4,607.8l2.3,2.3l-2.3,2.3l-2.3,-2.3zM323.5,607.8l2.3,2.3l-2.3,2.3l-2.3,-2.3zM329.1,607.8l2.3,2.3l-2.3,2.3l-2.3,-2.3zM345.5,607.8l2.3,2.3l-2.3,2.3l-2.3,-2.3zM347.4,607.8l2.3,2.3l-2.3,2.3l-2.3,-2.3zM356.0,607.8l2.3,2.3l-2.3,2.3l-2.3,-2.3zM362.0,607.8l2.3,2.3l-2.3,2.3l-2.3,-2.3zM368.6,607.8l2.3,2.3l-2.3,2.3l-2.3,-2.3zM372.9,607.8l2.3,2.3l-2.3,2.3l-2.3,-2.3zM394.2,607.8l2.3,2.3l-2.3,2.3l-2.3,-2.3zM303.8,618.0l2.3,2.3l-2.3,2.3l-2.3,-2.3zM325.4,618.0l2.3,2.3l-2.3,2.3l-2.3,-2.3zM332.0,618.0l2.3,2.3l-2.3,2.3l-2.3,-2.3zM334.2,618.0l2.3,2.3l-2.3,2.3l-2.3,-2.3zM343.2,618.0l2.3,2.3l-2.3,2.3l-2.3,-2.3zM345.5,618.0l2.3,2.3l-2.3,2.3l-2.3,-2.3zM348.5,618.0l2.3,2.3l-2.3,2.3l-2.3,-2.3zM352.3,618.0l2.3,2.3l-2.3,2.3l-2.3,-2.3zM354.9,618.0l2.3,2.3l-2.3,2.3l-2.3,-2.3zM357.9,618.0l2.3,2.3l-2.3,2.3l-2.3,-2.3zM360.5,618.0l2.3,2.3l-2.3,2.3l-2.3,-2.3zM366.2,618.0l2.3,2.3l-2.3,2.3l-2.3,-2.3zM375.5,618.0l2.3,2.3l-2.3,2.3l-2.3,-2.3zM397.2,618.0l2.3,2.3l-2.3,2.3l-2.3,-2.3zM342.9,628.2l2.3,2.3l-2.3,2.3l-2.3,-2.3zM347.0,628.2l2.3,2.3l-2.3,2.3l-2.3,-2.3zM351.1,628.2l2.3,2.3l-2.3,2.3l-2.3,-2.3zM363.0,628.2l2.3,2.3l-2.3,2.3l-2.3,-2.3zM392.8,628.2l2.3,2.3l-2.3,2.3l-2.3,-2.3zM350.8,638.4l2.3,2.3l-2.3,2.3l-2.3,-2.3zM364.3,638.4l2.3,2.3l-2.3,2.3l-2.3,-2.3zM397.9,638.4l2.3,2.3l-2.3,2.3l-2.3,-2.3zM356.0,643.5l2.3,2.3l-2.3,2.3l-2.3,-2.3zM420.1,648.6l2.3,2.3l-2.3,2.3l-2.3,-2.3z" fill="#e8141c"/></g>
<g><text x="491.8" y="529.5" font-weight="bold" font-size="11.3" xml:space="preserve">L  CAU_R to HIP_R</text><text x="0" y="0" font-size="11.5" text-anchor="middle" transform="translate(502.0,599.4) rotate(-90)">MoCA score</text><text x="535.2" y="628.6" font-size="11.7">R = –0.297</text><text x="536.0" y="649" font-size="11.7"><tspan font-style="italic">P</tspan> = 0.069</text><path d="M528,539.4 V659.6 H706.8" fill="none" stroke="#1e1e1e" stroke-width="1.4" stroke-linecap="square"/><text x="517.9" y="663.30" font-size="10.5" text-anchor="end">20</text><text x="517.9" y="643.42" font-size="10.5" text-anchor="end">22</text><text x="517.9" y="623.53" font-size="10.5" text-anchor="end">24</text><text x="517.9" y="603.65" font-size="10.5" text-anchor="end">26</text><text x="517.9" y="583.77" font-size="10.5" text-anchor="end">28</text><text x="517.9" y="563.88" font-size="10.5" text-anchor="end">30</text><text x="517.9" y="544.00" font-size="10.5" text-anchor="end">32</text><text x="529.10" y="677.40" font-size="10.5" text-anchor="middle">–0.8</text><text x="570.30" y="677.40" font-size="10.5" text-anchor="middle">–0.4</text><text x="616.30" y="677.40" font-size="10.5" text-anchor="middle">0</text><text x="661.60" y="677.40" font-size="10.5" text-anchor="middle">0.4</text><text x="705.70" y="677.40" font-size="10.5" text-anchor="middle">0.8</text><path d="M522.8,659.60H528M522.8,639.57H528M522.8,619.53H528M522.8,599.50H528M522.8,579.47H528M522.8,559.43H528M522.8,539.40H528M528.00,659.6v5.5M572.70,659.6v5.5M617.40,659.6v5.5M662.10,659.6v5.5M706.80,659.6v5.5" fill="none" stroke="#1e1e1e" stroke-width="1.4"/><text x="618.8" y="690" font-size="11.5" text-anchor="middle">RSFC</text><path d="M543,578.6L696.8,613.5" stroke="#111" stroke-width="1.6" stroke-dasharray="5.2 4.2" fill="none"/><path d="M621.7,557.1l2.3,2.3l-2.3,2.3l-2.3,-2.3zM644.2,557.1l2.3,2.3l-2.3,2.3l-2.3,-2.3zM656.5,557.1l2.3,2.3l-2.3,2.3l-2.3,-2.3zM586.7,567.2l2.3,2.3l-2.3,2.3l-2.3,-2.3zM617.0,567.2l2.3,2.3l-2.3,2.3l-2.3,-2.3zM627.3,567.2l2.3,2.3l-2.3,2.3l-2.3,-2.3zM631.7,567.2l2.3,2.3l-2.3,2.3l-2.3,-2.3zM639.2,567.2l2.3,2.3l-2.3,2.3l-2.3,-2.3zM647.4,567.2l2.3,2.3l-2.3,2.3l-2.3,-2.3zM651.8,567.2l2.3,2.3l-2.3,2.3l-2.3,-2.3zM544.3,577.2l2.3,2.3l-2.3,2.3l-2.3,-2.3zM574.3,577.2l2.3,2.3l-2.3,2.3l-2.3,-2.3zM628.6,577.2l2.3,2.3l-2.3,2.3l-2.3,-2.3zM645.2,577.2l2.3,2.3l-2.3,2.3l-2.3,-2.3zM648.6,577.2l2.3,2.3l-2.3,2.3l-2.3,-2.3zM589.0,587.2l2.3,2.3l-2.3,2.3l-2.3,-2.3zM591.8,587.2l2.3,2.3l-2.3,2.3l-2.3,-2.3zM595.0,587.2l2.3,2.3l-2.3,2.3l-2.3,-2.3zM618.9,587.2l2.3,2.3l-2.3,2.3l-2.3,-2.3zM623.6,587.2l2.3,2.3l-2.3,2.3l-2.3,-2.3zM631.1,587.2l2.3,2.3l-2.3,2.3l-2.3,-2.3zM635.4,587.2l2.3,2.3l-2.3,2.3l-2.3,-2.3zM639.2,587.2l2.3,2.3l-2.3,2.3l-2.3,-2.3zM642.4,587.2l2.3,2.3l-2.3,2.3l-2.3,-2.3zM645.2,587.2l2.3,2.3l-2.3,2.3l-2.3,-2.3zM648.6,587.2l2.3,2.3l-2.3,2.3l-2.3,-2.3zM656.8,587.2l2.3,2.3l-2.3,2.3l-2.3,-2.3zM659.3,587.2l2.3,2.3l-2.3,2.3l-2.3,-2.3zM585.2,597.2l2.3,2.3l-2.3,2.3l-2.3,-2.3zM588.6,597.2l2.3,2.3l-2.3,2.3l-2.3,-2.3zM608.2,597.2l2.3,2.3l-2.3,2.3l-2.3,-2.3zM611.2,597.2l2.3,2.3l-2.3,2.3l-2.3,-2.3zM613.8,597.2l2.3,2.3l-2.3,2.3l-2.3,-2.3zM616.2,597.2l2.3,2.3l-2.3,2.3l-2.3,-2.3zM618.9,597.2l2.3,2.3l-2.3,2.3l-2.3,-2.3zM630.5,597.2l2.3,2.3l-2.3,2.3l-2.3,-2.3zM634.8,597.2l2.3,2.3l-2.3,2.3l-2.3,-2.3zM648.9,597.2l2.3,2.3l-2.3,2.3l-2.3,-2.3zM652.3,597.2l2.3,2.3l-2.3,2.3l-2.3,-2.3zM661.1,597.2l2.3,2.3l-2.3,2.3l-2.3,-2.3zM664.0,597.2l2.3,2.3l-2.3,2.3l-2.3,-2.3zM666.2,597.2l2.3,2.3l-2.3,2.3l-2.3,-2.3zM673.0,597.2l2.3,2.3l-2.3,2.3l-2.3,-2.3z" fill="#5690cc"/><path d="M614.4,607.2l2.3,2.3l-2.3,2.3l-2.3,-2.3zM618.5,607.2l2.3,2.3l-2.3,2.3l-2.3,-2.3zM623.6,607.2l2.3,2.3l-2.3,2.3l-2.3,-2.3zM629.8,607.2l2.3,2.3l-2.3,2.3l-2.3,-2.3zM633.9,607.2l2.3,2.3l-2.3,2.3l-2.3,-2.3zM655.5,607.2l2.3,2.3l-2.3,2.3l-2.3,-2.3zM659.8,607.2l2.3,2.3l-2.3,2.3l-2.3,-2.3zM680.9,607.2l2.3,2.3l-2.3,2.3l-2.3,-2.3zM683.7,607.2l2.3,2.3l-2.3,2.3l-2.3,-2.3zM695.5,607.2l2.3,2.3l-2.3,2.3l-2.3,-2.3zM592.8,617.2l2.3,2.3l-2.3,2.3l-2.3,-2.3zM603.1,617.2l2.3,2.3l-2.3,2.3l-2.3,-2.3zM611.9,617.2l2.3,2.3l-2.3,2.3l-2.3,-2.3zM621.1,617.2l2.3,2.3l-2.3,2.3l-2.3,-2.3zM636.2,617.2l2.3,2.3l-2.3,2.3l-2.3,-2.3zM638.6,617.2l2.3,2.3l-2.3,2.3l-2.3,-2.3zM641.0,617.2l2.3,2.3l-2.3,2.3l-2.3,-2.3zM644.8,617.2l2.3,2.3l-2.3,2.3l-2.3,-2.3zM652.3,617.2l2.3,2.3l-2.3,2.3l-2.3,-2.3zM654.6,617.2l2.3,2.3l-2.3,2.3l-2.3,-2.3zM663.6,617.2l2.3,2.3l-2.3,2.3l-2.3,-2.3zM666.8,617.2l2.3,2.3l-2.3,2.3l-2.3,-2.3zM671.9,617.2l2.3,2.3l-2.3,2.3l-2.3,-2.3zM688.4,617.2l2.3,2.3l-2.3,2.3l-2.3,-2.3zM617.0,627.2l2.3,2.3l-2.3,2.3l-2.3,-2.3zM627.3,627.2l2.3,2.3l-2.3,2.3l-2.3,-2.3zM651.8,627.2l2.3,2.3l-2.3,2.3l-2.3,-2.3zM656.1,627.2l2.3,2.3l-2.3,2.3l-2.3,-2.3zM666.2,627.2l2.3,2.3l-2.3,2.3l-2.3,-2.3zM642.9,637.3l2.3,2.3l-2.3,2.3l-2.3,-2.3zM654.2,637.3l2.3,2.3l-2.3,2.3l-2.3,-2.3zM694.4,637.3l2.3,2.3l-2.3,2.3l-2.3,-2.3zM671.9,642.3l2.3,2.3l-2.3,2.3l-2.3,-2.3zM667.7,647.3l2.3,2.3l-2.3,2.3l-2.3,-2.3z" fill="#e8141c"/></g>
</svg></body></html>
